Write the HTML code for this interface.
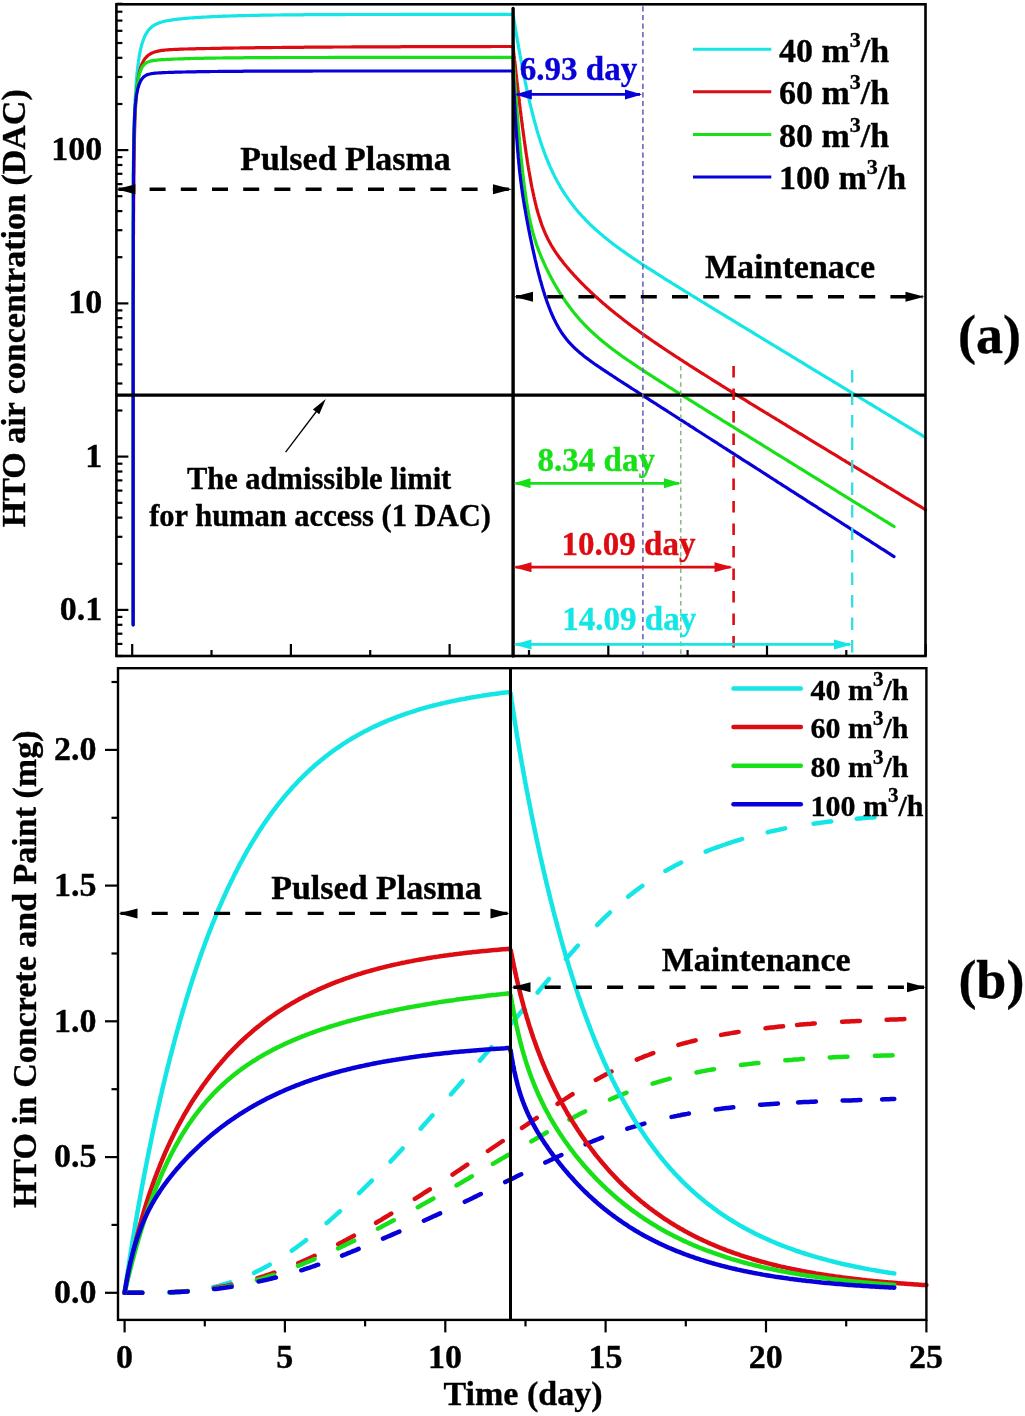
<!DOCTYPE html>
<html><head><meta charset="utf-8"><style>html,body{margin:0;padding:0;background:#fff;overflow:hidden}svg{display:block}</style></head><body>
<svg width="1025" height="1416" viewBox="0 0 1025 1416" font-family="Liberation Serif, serif" font-weight="bold">
<rect width="1025" height="1416" fill="#fff"/>
<line x1="132.2" y1="656" x2="132.2" y2="644" stroke="#000" stroke-width="2.2"/>
<line x1="211.5" y1="656" x2="211.5" y2="650" stroke="#000" stroke-width="2.2"/>
<line x1="290.9" y1="656" x2="290.9" y2="644" stroke="#000" stroke-width="2.2"/>
<line x1="370.2" y1="656" x2="370.2" y2="650" stroke="#000" stroke-width="2.2"/>
<line x1="449.6" y1="656" x2="449.6" y2="644" stroke="#000" stroke-width="2.2"/>
<line x1="529" y1="656" x2="529" y2="650" stroke="#000" stroke-width="2.2"/>
<line x1="608.3" y1="656" x2="608.3" y2="644" stroke="#000" stroke-width="2.2"/>
<line x1="687.6" y1="656" x2="687.6" y2="650" stroke="#000" stroke-width="2.2"/>
<line x1="767" y1="656" x2="767" y2="644" stroke="#000" stroke-width="2.2"/>
<line x1="846.3" y1="656" x2="846.3" y2="650" stroke="#000" stroke-width="2.2"/>
<line x1="925.7" y1="656" x2="925.7" y2="644" stroke="#000" stroke-width="2.2"/>
<line x1="116.4" y1="656" x2="122.4" y2="656" stroke="#000" stroke-width="2.2"/>
<line x1="116.4" y1="643.9" x2="122.4" y2="643.9" stroke="#000" stroke-width="2.2"/>
<line x1="116.4" y1="633.7" x2="122.4" y2="633.7" stroke="#000" stroke-width="2.2"/>
<line x1="116.4" y1="624.8" x2="122.4" y2="624.8" stroke="#000" stroke-width="2.2"/>
<line x1="116.4" y1="616.9" x2="122.4" y2="616.9" stroke="#000" stroke-width="2.2"/>
<line x1="116.4" y1="609.9" x2="128.4" y2="609.9" stroke="#000" stroke-width="2.2"/>
<line x1="116.4" y1="563.8" x2="122.4" y2="563.8" stroke="#000" stroke-width="2.2"/>
<line x1="116.4" y1="536.8" x2="122.4" y2="536.8" stroke="#000" stroke-width="2.2"/>
<line x1="116.4" y1="517.6" x2="122.4" y2="517.6" stroke="#000" stroke-width="2.2"/>
<line x1="116.4" y1="502.8" x2="122.4" y2="502.8" stroke="#000" stroke-width="2.2"/>
<line x1="116.4" y1="490.6" x2="122.4" y2="490.6" stroke="#000" stroke-width="2.2"/>
<line x1="116.4" y1="480.4" x2="122.4" y2="480.4" stroke="#000" stroke-width="2.2"/>
<line x1="116.4" y1="471.5" x2="122.4" y2="471.5" stroke="#000" stroke-width="2.2"/>
<line x1="116.4" y1="463.7" x2="122.4" y2="463.7" stroke="#000" stroke-width="2.2"/>
<line x1="116.4" y1="456.6" x2="128.4" y2="456.6" stroke="#000" stroke-width="2.2"/>
<line x1="116.4" y1="410.5" x2="122.4" y2="410.5" stroke="#000" stroke-width="2.2"/>
<line x1="116.4" y1="383.5" x2="122.4" y2="383.5" stroke="#000" stroke-width="2.2"/>
<line x1="116.4" y1="364.4" x2="122.4" y2="364.4" stroke="#000" stroke-width="2.2"/>
<line x1="116.4" y1="349.5" x2="122.4" y2="349.5" stroke="#000" stroke-width="2.2"/>
<line x1="116.4" y1="337.4" x2="122.4" y2="337.4" stroke="#000" stroke-width="2.2"/>
<line x1="116.4" y1="327.1" x2="122.4" y2="327.1" stroke="#000" stroke-width="2.2"/>
<line x1="116.4" y1="318.2" x2="122.4" y2="318.2" stroke="#000" stroke-width="2.2"/>
<line x1="116.4" y1="310.4" x2="122.4" y2="310.4" stroke="#000" stroke-width="2.2"/>
<line x1="116.4" y1="303.4" x2="128.4" y2="303.4" stroke="#000" stroke-width="2.2"/>
<line x1="116.4" y1="257.2" x2="122.4" y2="257.2" stroke="#000" stroke-width="2.2"/>
<line x1="116.4" y1="230.2" x2="122.4" y2="230.2" stroke="#000" stroke-width="2.2"/>
<line x1="116.4" y1="211.1" x2="122.4" y2="211.1" stroke="#000" stroke-width="2.2"/>
<line x1="116.4" y1="196.2" x2="122.4" y2="196.2" stroke="#000" stroke-width="2.2"/>
<line x1="116.4" y1="184.1" x2="122.4" y2="184.1" stroke="#000" stroke-width="2.2"/>
<line x1="116.4" y1="173.8" x2="122.4" y2="173.8" stroke="#000" stroke-width="2.2"/>
<line x1="116.4" y1="165" x2="122.4" y2="165" stroke="#000" stroke-width="2.2"/>
<line x1="116.4" y1="157.1" x2="122.4" y2="157.1" stroke="#000" stroke-width="2.2"/>
<line x1="116.4" y1="150.1" x2="128.4" y2="150.1" stroke="#000" stroke-width="2.2"/>
<line x1="116.4" y1="104" x2="122.4" y2="104" stroke="#000" stroke-width="2.2"/>
<line x1="116.4" y1="77" x2="122.4" y2="77" stroke="#000" stroke-width="2.2"/>
<line x1="116.4" y1="57.8" x2="122.4" y2="57.8" stroke="#000" stroke-width="2.2"/>
<line x1="116.4" y1="43" x2="122.4" y2="43" stroke="#000" stroke-width="2.2"/>
<line x1="116.4" y1="30.8" x2="122.4" y2="30.8" stroke="#000" stroke-width="2.2"/>
<line x1="116.4" y1="20.6" x2="122.4" y2="20.6" stroke="#000" stroke-width="2.2"/>
<line x1="116.4" y1="11.7" x2="122.4" y2="11.7" stroke="#000" stroke-width="2.2"/>
<line x1="116.4" y1="3.8" x2="122.4" y2="3.8" stroke="#000" stroke-width="2.2"/>
<text x="102.3" y="160.1" font-size="34" fill="#000" stroke="#000" stroke-width="0.35" text-anchor="end">100</text>
<text x="102.3" y="313.4" font-size="34" fill="#000" stroke="#000" stroke-width="0.35" text-anchor="end">10</text>
<text x="102.3" y="466.6" font-size="34" fill="#000" stroke="#000" stroke-width="0.35" text-anchor="end">1</text>
<text x="102.3" y="619.9" font-size="34" fill="#000" stroke="#000" stroke-width="0.35" text-anchor="end">0.1</text>
<text x="0" y="0" font-size="34" fill="#000" stroke="#000" stroke-width="0.35" text-anchor="middle" transform="translate(24.9 308.2) rotate(-90)">HTO air concentration (DAC)</text>
<path d="M133.2 624.8L133.2 617.2L133.2 615.9L133.2 614.7L133.2 613.5L133.2 612.3L133.2 611L133.2 609.8L133.2 608.6L133.2 607.4L133.2 606.2L133.2 604.9L133.2 603.7L133.2 602.5L133.2 601.3L133.2 600L133.2 598.8L133.2 597.6L133.2 596.4L133.2 595.1L133.2 593.8L133.2 592.6L133.2 591.3L133.2 590L133.2 588.8L133.2 587.6L133.2 586.3L133.2 585.1L133.2 583.8L133.2 582.6L133.2 581.3L133.2 580L133.2 578.8L133.2 577.5L133.2 576.3L133.2 575L133.2 573.7L133.2 572.4L133.2 571L133.2 569.8L133.2 568.6L133.2 567.4L133.2 566.1L133.2 564.8L133.2 563.5L133.2 562.2L133.2 560.9L133.2 559.5L133.2 558.2L133.2 557L133.2 555.7L133.2 554.5L133.2 553.3L133.2 552L133.2 550.8L133.2 549.5L133.2 548.2L133.2 546.9L133.2 545.6L133.2 544.2L133.2 542.9L133.2 541.6L133.2 540.2L133.2 538.8L133.2 537.4L133.2 536L133.2 534.8L133.2 533.6L133.2 532.4L133.2 531.2L133.2 530L133.2 528.7L133.2 527.5L133.2 526.2L133.2 525L133.2 523.7L133.2 522.4L133.2 521.2L133.2 519.9L133.2 518.6L133.2 517.3L133.2 516L133.2 514.7L133.2 513.3L133.2 512L133.2 510.7L133.2 509.4L133.2 508L133.2 506.7L133.2 505.3L133.2 504L133.2 502.6L133.2 501.2L133.2 499.8L133.2 498.5L133.2 497.1L133.2 495.7L133.2 494.3L133.2 492.9L133.2 491.5L133.2 490.1L133.2 488.7L133.2 487.3L133.2 485.8L133.2 484.4L133.2 483L133.2 481.6L133.2 480.1L133.2 478.9L133.2 477.7L133.2 476.5L133.2 475.3L133.2 474.1L133.2 472.9L133.2 471.7L133.2 470.4L133.2 469.2L133.2 468L133.2 466.8L133.2 465.5L133.2 464.3L133.2 463.1L133.2 461.9L133.2 460.6L133.2 459.4L133.2 458.1L133.2 456.9L133.2 455.7L133.2 454.4L133.2 453.2L133.2 451.9L133.2 450.7L133.2 449.4L133.2 448.2L133.2 446.9L133.2 445.6L133.2 444.4L133.2 443.1L133.2 441.9L133.2 440.6L133.2 439.3L133.2 438.1L133.2 436.8L133.2 435.5L133.2 434.2L133.2 433L133.2 431.7L133.2 430.4L133.2 429.1L133.2 427.9L133.2 426.6L133.2 425.3L133.2 424L133.2 422.7L133.2 421.5L133.2 420.2L133.2 418.9L133.2 417.6L133.2 416.3L133.2 415L133.2 413.7L133.2 412.4L133.2 411.1L133.2 409.9L133.2 408.6L133.2 407.3L133.2 406L133.2 404.7L133.2 403.4L133.2 402.1L133.2 400.8L133.2 399.5L133.2 398.2L133.2 396.9L133.2 395.6L133.2 394.3L133.2 393L133.2 391.7L133.2 390.4L133.2 389.1L133.2 387.8L133.2 386.5L133.2 385.2L133.2 383.9L133.2 382.6L133.2 381.2L133.2 379.9L133.2 378.6L133.2 377.3L133.2 376L133.2 374.7L133.2 373.4L133.2 372.1L133.2 370.8L133.2 369.5L133.2 368.2L133.2 366.9L133.2 365.6L133.2 364.2L133.2 362.9L133.2 361.6L133.2 360.3L133.2 359L133.2 357.7L133.2 356.4L133.2 355.1L133.2 353.8L133.2 352.5L133.2 351.1L133.2 349.8L133.2 348.5L133.2 347.2L133.2 345.9L133.2 344.6L133.2 343.3L133.2 342L133.2 340.7L133.2 339.4L133.2 338.1L133.2 336.8L133.2 335.4L133.2 334.1L133.2 332.8L133.2 331.5L133.2 330.2L133.2 328.9L133.2 327.6L133.2 326.3L133.2 325L133.2 323.7L133.2 322.4L133.2 321.1L133.2 319.8L133.2 318.5L133.2 317.2L133.2 315.9L133.2 314.6L133.2 313.3L133.2 312L133.2 310.7L133.2 309.4L133.2 308.1L133.2 306.8L133.2 305.5L133.2 304.2L133.2 302.9L133.2 301.6L133.2 300.3L133.2 299L133.2 297.7L133.2 296.4L133.2 295.2L133.2 293.9L133.2 292.6L133.2 291.3L133.2 290L133.2 288.7L133.2 287.4L133.2 286.2L133.2 284.9L133.2 283.6L133.2 282.3L133.2 281L133.2 279.8L133.3 278.5L133.3 277.2L133.3 276L133.3 274.7L133.3 273.4L133.3 272.2L133.3 270.9L133.3 269.6L133.3 268.4L133.3 267.1L133.3 265.8L133.3 264.6L133.3 263.3L133.3 262.1L133.3 260.8L133.3 259.6L133.3 258.3L133.3 257.1L133.3 255.8L133.3 254.6L133.3 253.3L133.3 252.1L133.3 250.9L133.3 249.6L133.3 248.4L133.3 247.2L133.3 245.9L133.3 244.7L133.3 243.5L133.3 242.3L133.3 241L133.3 239.8L133.3 238.6L133.3 237.4L133.3 236.2L133.3 235L133.3 233.8L133.3 232.6L133.3 231.1L133.3 229.7L133.3 228.3L133.3 226.9L133.3 225.4L133.3 224L133.3 222.6L133.3 221.2L133.3 219.8L133.3 218.4L133.3 217L133.3 215.6L133.3 214.2L133.3 212.9L133.4 211.5L133.4 210.1L133.4 208.7L133.4 207.4L133.4 206L133.4 204.7L133.4 203.4L133.4 202L133.4 200.7L133.4 199.4L133.4 198L133.4 196.7L133.4 195.4L133.4 194.1L133.4 192.8L133.4 191.6L133.4 190.3L133.4 189L133.4 187.7L133.4 186.5L133.5 185.2L133.5 184L133.5 182.7L133.5 181.5L133.5 180.3L133.5 179.1L133.5 177.9L133.5 176.7L133.5 175.3L133.5 173.9L133.5 172.5L133.5 171.1L133.5 169.8L133.6 168.4L133.6 167.1L133.6 165.8L133.6 164.5L133.6 163.2L133.6 161.9L133.6 160.6L133.6 159.3L133.6 158.1L133.7 156.8L133.7 155.6L133.7 154.3L133.7 153.1L133.7 151.9L133.7 150.7L133.7 149.4L133.8 148L133.8 146.7L133.8 145.3L133.8 144L133.8 142.7L133.9 141.4L133.9 140.1L133.9 138.9L133.9 137.6L134 136.3L134 135.1L134 133.8L134 132.6L134.1 131.4L134.1 130.1L134.1 128.9L134.1 127.7L134.2 126.5L134.2 125.2L134.2 124L134.3 122.8L134.3 121.6L134.4 120.4L134.4 119.2L134.4 118L134.5 116.8L134.5 115.5L134.6 114.3L134.6 113.1L134.6 111.9L134.7 110.7L134.7 109.4L134.8 108.2L134.8 107L134.9 105.7L135 104.5L135 103.2L135.1 101.9L135.1 100.7L135.2 99.4L135.3 98.1L135.3 96.9L135.4 95.6L135.5 94.3L135.6 93L135.6 91.7L135.7 90.4L135.8 89.1L135.9 87.8L136 86.5L136.1 85.2L136.2 83.9L136.3 82.6L136.4 81.3L136.5 80L136.6 78.7L136.7 77.4L136.8 76.1L136.9 74.8L137 73.6L137.2 72.3L137.3 71L137.4 69.7L137.6 68.5L137.7 67.2L137.9 66L138 64.7L138.2 63.5L138.4 62.2L138.5 61L138.7 59.8L138.9 58.6L139.1 57.3L139.3 56L139.5 54.7L139.8 53.4L140 52.1L140.3 50.9L140.6 49.7L140.8 48.4L141.1 47.3L141.4 46.1L141.7 44.8L142.1 43.6L142.5 42.4L142.9 41.2L143.3 40.1L143.7 38.8L144.2 37.6L144.7 36.5L145.2 35.4L145.8 34.2L146.5 33.1L147.1 32.1L147.8 31.1L148.6 30.1L149.4 29.1L150.3 28.2L151.2 27.4L152.2 26.6L153.2 25.8L154.3 25.1L155.4 24.5L156.5 24L157.7 23.4L158.8 23L160 22.6L161.2 22.2L162.3 21.8L163.6 21.5L164.8 21.2L166 21L167.2 20.7L168.5 20.5L169.8 20.3L171 20.1L172.3 19.9L173.6 19.7L174.9 19.5L176.1 19.4L177.4 19.2L178.6 19.1L180 18.9L181.3 18.8L182.7 18.7L183.9 18.5L185.2 18.4L186.5 18.3L187.8 18.2L189.1 18.1L190.5 18L192 17.9L193.2 17.8L194.4 17.7L195.7 17.6L196.9 17.5L198.3 17.4L199.6 17.4L201 17.3L202.4 17.2L203.8 17.1L205.2 17L206.7 17L207.9 16.9L209.2 16.8L210.4 16.8L211.7 16.7L213 16.6L214.3 16.6L215.6 16.5L217 16.5L218.3 16.4L219.7 16.3L221.2 16.3L222.6 16.2L224.1 16.2L225.6 16.1L227.1 16.1L228.6 16L230.2 16L231.8 15.9L233 15.9L234.2 15.8L235.5 15.8L236.7 15.8L238 15.7L239.3 15.7L240.6 15.7L241.9 15.6L243.3 15.6L244.6 15.6L246 15.5L247.4 15.5L248.8 15.5L250.2 15.4L251.6 15.4L253.1 15.4L254.6 15.4L256.1 15.3L257.6 15.3L259.1 15.3L260.6 15.2L262.2 15.2L263.8 15.2L265.4 15.2L267 15.1L268.7 15.1L270.3 15.1L272 15.1L273.7 15L275.5 15L277.2 15L279 15L280.8 15L282 14.9L283.2 14.9L284.4 14.9L285.7 14.9L286.9 14.9L288.2 14.9L289.4 14.9L290.7 14.9L292 14.8L293.3 14.8L294.6 14.8L295.9 14.8L297.3 14.8L298.6 14.8L300 14.8L301.3 14.8L302.7 14.8L304.1 14.7L305.5 14.7L306.9 14.7L308.3 14.7L309.8 14.7L311.2 14.7L312.7 14.7L314.1 14.7L315.6 14.7L317.1 14.7L318.6 14.7L320.1 14.6L321.7 14.6L323.2 14.6L324.8 14.6L326.3 14.6L327.9 14.6L329.5 14.6L331.1 14.6L332.7 14.6L334.4 14.6L336 14.6L337.7 14.6L339.3 14.6L341 14.6L342.7 14.6L344.4 14.6L346.2 14.5L347.9 14.5L349.7 14.5L351.5 14.5L353.2 14.5L355 14.5L356.9 14.5L358.7 14.5L360.5 14.5L362.4 14.5L364.3 14.5L366.2 14.5L368.1 14.5L370 14.5L371.9 14.5L373.9 14.5L375.8 14.5L377.8 14.5L379.8 14.5L381.9 14.5L383.9 14.5L385.9 14.5L388 14.5L390.1 14.5L392.2 14.5L394.3 14.5L396.5 14.5L398.6 14.5L400.8 14.4L403 14.4L405.2 14.4L407.4 14.4L409.6 14.4L411.9 14.4L414.2 14.4L416.5 14.4L418.8 14.4L421.1 14.4L423.5 14.4L425.9 14.4L428.3 14.4L429.5 14.4L430.7 14.4L431.9 14.4L433.1 14.4L434.3 14.4L435.6 14.4L436.8 14.4L438.1 14.4L439.3 14.4L440.5 14.4L441.8 14.4L443.1 14.4L444.3 14.4L445.6 14.4L446.9 14.4L448.2 14.4L449.4 14.4L450.7 14.4L452 14.4L453.3 14.4L454.6 14.4L456 14.4L457.3 14.4L458.6 14.4L459.9 14.4L461.3 14.4L462.6 14.4L463.9 14.4L465.3 14.4L466.6 14.4L468 14.4L469.4 14.4L470.8 14.4L472.1 14.4L473.5 14.4L474.9 14.4L476.3 14.4L477.7 14.4L479.1 14.4L480.5 14.4L481.9 14.4L483.4 14.4L484.8 14.4L486.2 14.4L487.7 14.4L489.1 14.4L490.6 14.4L492 14.4L493.5 14.4L495 14.4L496.4 14.4L497.9 14.4L499.4 14.4L500.9 14.4L502.4 14.4L503.9 14.4L505.4 14.4L507 14.4L508.5 14.4L510 14.4L511.6 14.4L513.1 14.4L513.3 15.6L513.5 16.8L513.7 18L513.9 19.2L514.1 20.4L514.3 21.6L514.5 22.8L514.7 24L514.9 25.1L515.1 26.3L515.3 27.5L515.5 28.8L515.7 30L515.9 31.2L516.1 32.4L516.3 33.6L516.5 34.8L516.7 36.1L516.9 37.3L517.1 38.5L517.3 39.8L517.5 41L517.8 42.3L518 43.5L518.2 44.8L518.4 46L518.6 47.3L518.9 48.6L519.1 49.8L519.3 51.1L519.6 52.3L519.8 53.5L520 54.7L520.2 56L520.5 57.3L520.7 58.6L520.9 59.8L521.2 61L521.4 62.3L521.6 63.5L521.9 64.9L522.1 66.2L522.4 67.6L522.6 68.8L522.9 70L523.1 71.2L523.4 72.5L523.6 73.8L523.9 75.1L524.1 76.4L524.4 77.8L524.7 79.2L525 80.6L525.2 81.8L525.5 83L525.7 84.2L526 85.5L526.3 86.7L526.5 88L526.8 89.3L527.1 90.6L527.4 91.9L527.7 93.3L528 94.6L528.3 96L528.6 97.4L528.9 98.8L529.3 100.2L529.6 101.7L529.9 103.1L530.2 104.3L530.5 105.5L530.8 106.7L531.1 107.9L531.4 109.1L531.7 110.3L532 111.6L532.3 112.8L532.6 114.1L532.9 115.3L533.3 116.6L533.6 117.9L533.9 119.1L534.3 120.4L534.6 121.7L535 123L535.3 124.3L535.7 125.7L536.1 127L536.5 128.3L536.8 129.6L537.2 131L537.6 132.3L538 133.7L538.4 135L538.9 136.4L539.3 137.7L539.7 139.1L540.2 140.5L540.6 141.8L541.1 143.2L541.5 144.6L542 146L542.5 147.3L543 148.7L543.5 150.1L544 151.5L544.5 152.9L545 154.2L545.5 155.6L546 157L546.6 158.4L547.1 159.7L547.7 161.1L548.3 162.5L548.9 163.9L549.4 165.2L550 166.6L550.7 168L551.3 169.3L551.9 170.7L552.5 172.1L553.2 173.4L553.9 174.8L554.5 176.1L555.2 177.5L555.9 178.8L556.6 180.1L557.3 181.5L558.1 182.8L558.8 184.1L559.6 185.4L560.3 186.8L561.1 188.1L561.9 189.4L562.7 190.7L563.5 192L564.4 193.3L565.2 194.6L566.1 195.9L567 197.2L567.8 198.4L568.7 199.7L569.7 201L570.6 202.3L571.6 203.5L572.5 204.8L573.5 206L574.2 207L575 207.9L575.8 208.9L576.5 209.8L577.3 210.7L578.1 211.7L578.9 212.6L579.7 213.5L580.6 214.4L581.4 215.4L582.2 216.3L583.1 217.2L584 218.1L584.8 219.1L585.7 220L586.6 220.9L587.5 221.8L588.5 222.7L589.4 223.7L590.3 224.6L591.3 225.5L592.2 226.4L593.2 227.3L594.2 228.2L595.2 229.1L596.2 230.1L597.3 231L598.3 231.9L599.4 232.8L600.4 233.7L601.5 234.6L602.6 235.5L603.7 236.5L604.8 237.4L606 238.3L607.1 239.2L608.3 240.1L609.4 241.1L610.6 242L611.8 242.9L613.1 243.9L614.3 244.8L615.5 245.7L616.8 246.7L618.1 247.6L619.4 248.6L620.7 249.5L622 250.5L623.4 251.4L624.7 252.4L626.1 253.4L627.5 254.3L628.9 255.3L630.4 256.3L631.8 257.3L633.3 258.3L634.8 259.3L635.8 260L636.8 260.6L637.8 261.3L638.8 262L639.9 262.7L640.9 263.4L642 264.1L643 264.8L644.1 265.5L645.2 266.2L646.3 266.9L647.3 267.6L648.5 268.3L649.6 269L650.7 269.7L651.8 270.5L653 271.2L654.1 271.9L655.3 272.7L656.4 273.4L657.6 274.2L658.8 274.9L660 275.7L661.2 276.4L662.4 277.2L663.7 278L664.9 278.8L666.1 279.5L667.4 280.3L668.7 281.1L670 281.9L671.2 282.7L672.5 283.5L673.9 284.4L675.2 285.2L676.5 286L677.9 286.8L679.2 287.7L680.6 288.5L682 289.4L683.3 290.2L684.7 291.1L686.2 292L687.6 292.8L689 293.7L690.5 294.6L691.9 295.5L693.4 296.4L694.9 297.3L696.4 298.2L697.9 299.2L699.4 300.1L700.9 301L702.5 302L704 302.9L705.6 303.9L707.2 304.9L708.8 305.8L710.4 306.8L712 307.8L713.7 308.8L715.3 309.8L717 310.8L718.6 311.8L720.3 312.9L722 313.9L723.8 315L725.5 316L727.2 317.1L729 318.2L730.8 319.2L732.6 320.3L734.4 321.4L736.2 322.5L738 323.6L739.9 324.8L741.7 325.9L743.6 327L745.5 328.2L747.4 329.4L749.4 330.5L751.3 331.7L753.3 332.9L755.2 334.1L757.2 335.3L759.2 336.5L761.3 337.8L763.3 339L764.3 339.6L765.4 340.3L766.4 340.9L767.4 341.5L768.5 342.2L769.5 342.8L770.6 343.4L771.6 344.1L772.7 344.7L773.8 345.4L774.8 346L775.9 346.7L777 347.3L778.1 348L779.2 348.6L780.3 349.3L781.3 350L782.4 350.6L783.6 351.3L784.7 352L785.8 352.7L786.9 353.3L788 354L789.2 354.7L790.3 355.4L791.4 356.1L792.6 356.8L793.7 357.5L794.9 358.2L796 358.9L797.2 359.6L798.3 360.3L799.5 361L800.7 361.7L801.9 362.4L803.1 363.1L804.2 363.9L805.4 364.6L806.6 365.3L807.8 366.1L809.1 366.8L810.3 367.5L811.5 368.3L812.7 369L813.9 369.8L815.2 370.5L816.4 371.3L817.7 372L818.9 372.8L820.2 373.5L821.4 374.3L822.7 375.1L824 375.8L825.2 376.6L826.5 377.4L827.8 378.2L829.1 379L830.4 379.7L831.7 380.5L833 381.3L834.3 382.1L835.6 382.9L837 383.7L838.3 384.5L839.6 385.3L841 386.2L842.3 387L843.7 387.8L845 388.6L846.4 389.4L847.8 390.3L849.1 391.1L850.5 392L851.9 392.8L853.3 393.6L854.7 394.5L856.1 395.3L857.5 396.2L858.9 397L860.3 397.9L861.7 398.8L863.2 399.6L864.6 400.5L866.1 401.4L867.5 402.3L869 403.2L870.4 404L871.9 404.9L873.4 405.8L874.8 406.7L876.3 407.6L877.8 408.5L879.3 409.4L880.8 410.3L882.3 411.3L883.8 412.2L885.4 413.1L886.9 414L888.4 415L890 415.9L891.5 416.8L893.1 417.8L894.6 418.7L896.2 419.7L897.8 420.6L899.3 421.6L900.9 422.6L902.5 423.5L904.1 424.5L905.7 425.5L907.3 426.4L908.9 427.4L910.6 428.4L912.2 429.4L913.8 430.4L915.5 431.4L917.1 432.4L918.8 433.4L920.5 434.4L922.1 435.4L923.8 436.5L925.5 437.5" fill="none" stroke="#14e6e6" stroke-width="3.2" stroke-linejoin="round" stroke-linecap="round"/>
<path d="M133.2 624.8L133.2 621.7L133.2 620.5L133.2 619.3L133.2 618.1L133.2 616.9L133.2 615.7L133.2 614.5L133.2 613.2L133.2 612L133.2 610.8L133.2 609.5L133.2 608.3L133.2 607.1L133.2 605.9L133.2 604.6L133.2 603.4L133.2 602.2L133.2 600.9L133.2 599.6L133.2 598.4L133.2 597.2L133.2 595.9L133.2 594.7L133.2 593.5L133.2 592.2L133.2 591L133.2 589.8L133.2 588.5L133.2 587.2L133.2 585.9L133.2 584.7L133.2 583.5L133.2 582.2L133.2 580.9L133.2 579.6L133.2 578.4L133.2 577.2L133.2 575.9L133.2 574.6L133.2 573.3L133.2 572L133.2 570.6L133.2 569.4L133.2 568.2L133.2 566.9L133.2 565.7L133.2 564.4L133.2 563.1L133.2 561.8L133.2 560.4L133.2 559.1L133.2 557.7L133.2 556.5L133.2 555.3L133.2 554L133.2 552.8L133.2 551.5L133.2 550.3L133.2 549L133.2 547.7L133.2 546.4L133.2 545.1L133.2 543.7L133.2 542.4L133.2 541L133.2 539.7L133.2 538.3L133.2 536.9L133.2 535.5L133.2 534.3L133.2 533.1L133.2 531.9L133.2 530.6L133.2 529.4L133.2 528.2L133.2 526.9L133.2 525.7L133.2 524.4L133.2 523.1L133.2 521.8L133.2 520.6L133.2 519.3L133.2 518L133.2 516.7L133.2 515.4L133.2 514L133.2 512.7L133.2 511.4L133.2 510.1L133.2 508.7L133.2 507.4L133.2 506L133.2 504.7L133.2 503.3L133.2 501.9L133.2 500.6L133.2 499.2L133.2 497.8L133.2 496.4L133.2 495L133.2 493.6L133.2 492.2L133.2 490.8L133.2 489.4L133.2 488L133.2 486.6L133.2 485.2L133.2 483.7L133.2 482.3L133.2 480.9L133.2 479.7L133.2 478.5L133.2 477.2L133.2 476L133.2 474.8L133.2 473.6L133.2 472.4L133.2 471.2L133.2 470L133.2 468.7L133.2 467.5L133.2 466.3L133.2 465L133.2 463.8L133.2 462.6L133.2 461.3L133.2 460.1L133.2 458.9L133.2 457.6L133.2 456.4L133.2 455.1L133.2 453.9L133.2 452.6L133.2 451.4L133.2 450.1L133.2 448.9L133.2 447.6L133.2 446.3L133.2 445.1L133.2 443.8L133.2 442.5L133.2 441.3L133.2 440L133.2 438.7L133.2 437.5L133.2 436.2L133.2 434.9L133.2 433.6L133.2 432.4L133.2 431.1L133.2 429.8L133.2 428.5L133.2 427.2L133.2 426L133.2 424.7L133.2 423.4L133.2 422.1L133.2 420.8L133.2 419.5L133.2 418.2L133.2 416.9L133.2 415.6L133.2 414.3L133.2 413L133.2 411.7L133.2 410.4L133.2 409.1L133.2 407.8L133.2 406.5L133.2 405.2L133.2 403.9L133.2 402.6L133.2 401.3L133.2 400L133.2 398.7L133.2 397.4L133.2 396.1L133.2 394.8L133.2 393.5L133.2 392.2L133.2 390.9L133.2 389.6L133.2 388.2L133.2 386.9L133.2 385.6L133.2 384.3L133.2 383L133.2 381.7L133.2 380.4L133.2 379L133.2 377.7L133.2 376.4L133.2 375.1L133.2 373.8L133.2 372.5L133.2 371.1L133.2 369.8L133.2 368.5L133.2 367.2L133.2 365.9L133.2 364.5L133.2 363.2L133.2 361.9L133.2 360.6L133.2 359.2L133.2 357.9L133.2 356.6L133.2 355.3L133.2 354L133.2 352.6L133.2 351.3L133.2 350L133.2 348.7L133.2 347.3L133.2 346L133.2 344.7L133.2 343.4L133.2 342L133.2 340.7L133.2 339.4L133.3 338L133.3 336.7L133.3 335.4L133.3 334.1L133.3 332.7L133.3 331.4L133.3 330.1L133.3 328.8L133.3 327.4L133.3 326.1L133.3 324.8L133.3 323.5L133.3 322.1L133.3 320.8L133.3 319.5L133.3 318.1L133.3 316.8L133.3 315.5L133.3 314.2L133.3 312.8L133.3 311.5L133.3 310.2L133.3 308.9L133.3 307.5L133.3 306.2L133.3 304.9L133.3 303.6L133.3 302.2L133.3 300.9L133.3 299.6L133.3 298.3L133.3 296.9L133.3 295.6L133.3 294.3L133.3 293L133.3 291.6L133.3 290.3L133.3 289L133.3 287.7L133.3 286.3L133.3 285L133.3 283.7L133.3 282.4L133.3 281.1L133.3 279.7L133.3 278.4L133.3 277.1L133.3 275.8L133.3 274.5L133.3 273.1L133.3 271.8L133.3 270.5L133.3 269.2L133.3 267.9L133.4 266.6L133.4 265.2L133.4 263.9L133.4 262.6L133.4 261.3L133.4 260L133.4 258.7L133.4 257.4L133.4 256.1L133.4 254.7L133.4 253.4L133.4 252.1L133.4 250.8L133.4 249.5L133.4 248.2L133.4 246.9L133.4 245.6L133.4 244.3L133.4 243L133.4 241.7L133.4 240.4L133.4 239.1L133.4 237.8L133.4 236.5L133.4 235.2L133.5 233.9L133.5 232.6L133.5 231.3L133.5 230L133.5 228.7L133.5 227.4L133.5 226.2L133.5 224.9L133.5 223.6L133.5 222.3L133.5 221L133.5 219.7L133.5 218.4L133.5 217.2L133.5 215.9L133.5 214.6L133.5 213.3L133.6 212.1L133.6 210.8L133.6 209.5L133.6 208.3L133.6 207L133.6 205.7L133.6 204.5L133.6 203.2L133.6 201.9L133.6 200.7L133.6 199.4L133.6 198.2L133.7 196.9L133.7 195.7L133.7 194.4L133.7 193.2L133.7 191.9L133.7 190.7L133.7 189.4L133.7 188.2L133.7 187L133.7 185.7L133.8 184.5L133.8 183.3L133.8 182L133.8 180.8L133.8 179.6L133.8 178.4L133.8 177.2L133.8 175.9L133.9 174.7L133.9 173.5L133.9 172.3L133.9 171.1L133.9 169.9L133.9 168.5L133.9 167.1L134 165.6L134 164.2L134 162.8L134 161.4L134 160L134.1 158.6L134.1 157.2L134.1 155.8L134.1 154.4L134.2 153L134.2 151.6L134.2 150.2L134.2 148.9L134.3 147.5L134.3 146.2L134.3 144.8L134.3 143.5L134.4 142.1L134.4 140.8L134.4 139.5L134.4 138.2L134.5 136.9L134.5 135.5L134.5 134.3L134.6 133L134.6 131.7L134.6 130.4L134.7 129.1L134.7 127.9L134.8 126.6L134.8 125.4L134.8 124.1L134.9 122.9L134.9 121.7L135 120.5L135 119.3L135.1 117.9L135.1 116.5L135.2 115.1L135.2 113.8L135.3 112.4L135.3 111.1L135.4 109.8L135.5 108.5L135.5 107.2L135.6 105.9L135.7 104.6L135.7 103.4L135.8 102.2L135.9 100.9L136 99.7L136.1 98.4L136.2 97L136.2 95.7L136.3 94.4L136.5 93.1L136.6 91.8L136.7 90.6L136.8 89.4L136.9 88.2L137 86.9L137.2 85.6L137.3 84.3L137.5 83L137.7 81.8L137.8 80.6L138 79.3L138.2 78L138.4 76.8L138.6 75.6L138.9 74.3L139.1 73.1L139.4 71.9L139.7 70.6L140.1 69.4L140.4 68.2L140.8 67L141.2 65.8L141.6 64.7L142.1 63.5L142.7 62.4L143.3 61.3L143.9 60.2L144.6 59.2L145.3 58.2L146.2 57.3L147 56.4L148 55.6L149 54.8L150 54.1L151.1 53.5L152.2 52.9L153.3 52.5L154.5 52.1L155.7 51.7L156.9 51.4L158.1 51.1L159.3 50.8L160.5 50.6L161.8 50.4L163.1 50.3L164.3 50.1L165.6 50L166.8 49.9L168.1 49.8L169.4 49.7L170.6 49.6L171.8 49.6L173.1 49.5L174.4 49.4L175.8 49.4L177 49.3L178.3 49.3L179.6 49.2L180.9 49.2L182.3 49.1L183.5 49.1L184.8 49L186 49L187.4 49L188.7 48.9L190.1 48.9L191.5 48.9L192.7 48.8L193.9 48.8L195.1 48.8L196.4 48.7L197.7 48.7L199.1 48.7L200.4 48.7L201.8 48.6L203.2 48.6L204.6 48.6L206.1 48.5L207.6 48.5L208.8 48.5L210.1 48.5L211.3 48.4L212.6 48.4L213.9 48.4L215.3 48.4L216.6 48.3L218 48.3L219.4 48.3L220.8 48.3L222.2 48.2L223.7 48.2L225.2 48.2L226.7 48.2L228.2 48.1L229.8 48.1L231.4 48.1L232.6 48.1L233.8 48L235.1 48L236.3 48L237.6 48L238.9 48L240.2 47.9L241.5 47.9L242.8 47.9L244.2 47.9L245.5 47.9L246.9 47.9L248.3 47.8L249.7 47.8L251.1 47.8L252.6 47.8L254.1 47.8L255.6 47.7L257.1 47.7L258.6 47.7L260.1 47.7L261.7 47.7L263.3 47.6L264.9 47.6L266.5 47.6L268.1 47.6L269.8 47.6L271.5 47.6L273.2 47.5L274.9 47.5L276.6 47.5L278.4 47.5L280.2 47.5L281.4 47.5L282.6 47.4L283.8 47.4L285.1 47.4L286.3 47.4L287.6 47.4L288.8 47.4L290.1 47.4L291.4 47.4L292.7 47.3L294 47.3L295.3 47.3L296.6 47.3L298 47.3L299.3 47.3L300.7 47.3L302 47.3L303.4 47.3L304.8 47.2L306.2 47.2L307.6 47.2L309.1 47.2L310.5 47.2L311.9 47.2L313.4 47.2L314.9 47.2L316.4 47.2L317.9 47.2L319.4 47.1L320.9 47.1L322.4 47.1L324 47.1L325.5 47.1L327.1 47.1L328.7 47.1L330.3 47.1L331.9 47.1L333.5 47L335.2 47L336.8 47L338.5 47L340.2 47L341.9 47L343.6 47L345.3 47L347 47L348.8 47L350.6 47L352.3 46.9L354.1 46.9L355.9 46.9L357.8 46.9L359.6 46.9L361.5 46.9L363.3 46.9L365.2 46.9L367.1 46.9L369 46.9L371 46.9L372.9 46.9L374.9 46.8L376.8 46.8L378.8 46.8L380.8 46.8L382.9 46.8L384.9 46.8L387 46.8L389 46.8L391.1 46.8L393.3 46.8L395.4 46.8L397.5 46.8L399.7 46.8L401.9 46.7L404.1 46.7L406.3 46.7L408.5 46.7L410.8 46.7L413 46.7L415.3 46.7L417.6 46.7L420 46.7L422.3 46.7L424.7 46.7L427.1 46.7L428.3 46.7L429.5 46.7L430.7 46.7L431.9 46.7L433.1 46.7L434.3 46.7L435.6 46.7L436.8 46.6L438.1 46.6L439.3 46.6L440.5 46.6L441.8 46.6L443.1 46.6L444.3 46.6L445.6 46.6L446.9 46.6L448.2 46.6L449.4 46.6L450.7 46.6L452 46.6L453.3 46.6L454.6 46.6L456 46.6L457.3 46.6L458.6 46.6L459.9 46.6L461.3 46.6L462.6 46.6L463.9 46.6L465.3 46.6L466.6 46.6L468 46.6L469.4 46.6L470.8 46.6L472.1 46.6L473.5 46.6L474.9 46.6L476.3 46.6L477.7 46.6L479.1 46.6L480.5 46.6L481.9 46.6L483.4 46.6L484.8 46.6L486.2 46.6L487.7 46.6L489.1 46.6L490.6 46.6L492 46.5L493.5 46.5L495 46.5L496.4 46.5L497.9 46.5L499.4 46.5L500.9 46.5L502.4 46.5L503.9 46.5L505.4 46.5L507 46.5L508.5 46.5L510 46.5L511.6 46.5L513.1 46.5L513.2 47.6L513.4 48.8L513.5 50L513.6 51.2L513.7 52.4L513.9 53.6L514 54.8L514.1 56L514.3 57.2L514.4 58.4L514.5 59.7L514.7 60.9L514.8 62.1L515 63.4L515.1 64.6L515.2 65.8L515.4 67L515.5 68.2L515.6 69.5L515.8 70.7L515.9 71.9L516 73.2L516.2 74.4L516.3 75.6L516.5 76.9L516.6 78.2L516.8 79.5L516.9 80.7L517 81.9L517.2 83.2L517.3 84.6L517.5 85.8L517.6 87L517.8 88.3L517.9 89.7L518.1 90.9L518.2 92.1L518.4 93.4L518.5 94.7L518.7 96L518.8 97.4L519 98.6L519.1 99.8L519.3 101.1L519.4 102.4L519.6 103.7L519.7 105L519.9 106.4L520.1 107.8L520.2 109.2L520.4 110.4L520.5 111.6L520.7 112.9L520.9 114.1L521 115.4L521.2 116.7L521.4 118L521.5 119.4L521.7 120.8L521.9 122.2L522.1 123.6L522.2 125L522.4 126.5L522.6 127.9L522.8 129.1L522.9 130.3L523.1 131.6L523.3 132.8L523.4 134.1L523.6 135.3L523.8 136.6L524 137.9L524.1 139.2L524.3 140.5L524.5 141.8L524.7 143.2L524.9 144.5L525.1 145.9L525.3 147.3L525.5 148.7L525.7 150.1L525.9 151.5L526.1 152.9L526.3 154.4L526.5 155.8L526.8 157.3L527 158.7L527.2 160.2L527.4 161.7L527.7 163.2L527.9 164.7L528.2 166.2L528.4 167.7L528.7 169.2L528.9 170.8L529.2 172.3L529.5 173.8L529.7 175.4L530 176.9L530.3 178.5L530.6 180L530.8 181.6L531.1 183.1L531.4 184.7L531.7 186.3L532 187.8L532.4 189.4L532.7 190.9L533 192.5L533.3 194L533.7 195.5L534 197.1L534.4 198.6L534.7 200.1L535.1 201.6L535.4 203.1L535.8 204.6L536.2 206.1L536.5 207.6L536.9 209L537.3 210.5L537.7 211.9L538.1 213.4L538.5 214.8L539 216.2L539.4 217.5L539.8 218.9L540.3 220.3L540.7 221.6L541.2 222.9L541.6 224.3L542.1 225.6L542.6 226.8L543.1 228.1L543.6 229.4L544.1 230.6L544.6 231.8L545.1 233L545.6 234.2L546.2 235.4L546.7 236.6L547.3 237.7L547.8 238.9L548.4 240L549 241.1L549.6 242.2L550.2 243.3L550.8 244.4L551.4 245.5L552.1 246.6L552.7 247.6L553.4 248.7L554 249.7L554.7 250.8L555.4 251.8L556.1 252.9L556.8 253.9L557.5 254.9L558.3 256L559 257L559.8 258L560.5 259L561.3 260.1L562.1 261.1L562.9 262.1L563.7 263.2L564.6 264.2L565.4 265.2L566.3 266.3L567.2 267.3L568.1 268.4L569 269.4L569.9 270.5L570.8 271.6L571.8 272.6L572.8 273.7L573.7 274.8L574.7 275.9L575.8 277L576.8 278.1L577.9 279.2L578.9 280.3L580 281.4L581.1 282.6L582.2 283.7L583.1 284.6L584 285.4L584.8 286.3L585.7 287.2L586.6 288L587.5 288.9L588.5 289.8L589.4 290.7L590.3 291.6L591.3 292.5L592.2 293.4L593.2 294.3L594.2 295.2L595.2 296.1L596.2 297.1L597.3 298L598.3 298.9L599.4 299.9L600.4 300.8L601.5 301.8L602.6 302.7L603.7 303.7L604.8 304.6L606 305.6L607.1 306.6L608.3 307.5L609.4 308.5L610.6 309.5L611.8 310.5L613.1 311.5L614.3 312.5L615.5 313.5L616.8 314.5L618.1 315.5L619.4 316.6L620.7 317.6L622 318.6L623.4 319.7L624.7 320.7L626.1 321.8L627.5 322.8L628.9 323.9L630.4 325L631.3 325.7L632.3 326.4L633.3 327.2L634.3 327.9L635.3 328.6L636.3 329.3L637.3 330.1L638.3 330.8L639.3 331.6L640.4 332.3L641.4 333.1L642.5 333.8L643.6 334.6L644.6 335.3L645.7 336.1L646.8 336.9L647.9 337.6L649 338.4L650.1 339.2L651.3 340L652.4 340.8L653.5 341.5L654.7 342.3L655.9 343.1L657 343.9L658.2 344.7L659.4 345.6L660.6 346.4L661.8 347.2L663 348L664.3 348.8L665.5 349.7L666.8 350.5L668 351.3L669.3 352.2L670.6 353L671.9 353.9L673.2 354.7L674.5 355.6L675.8 356.5L677.2 357.4L678.5 358.2L679.9 359.1L681.3 360L682.7 360.9L684 361.8L685.5 362.7L686.9 363.6L688.3 364.5L689.7 365.5L691.2 366.4L692.7 367.3L694.1 368.3L695.6 369.2L697.1 370.2L698.6 371.1L700.2 372.1L701.7 373.1L703.3 374L704.8 375L706.4 376L708 377L709.6 378L711.2 379L712.8 380.1L714.5 381.1L716.1 382.1L717.8 383.2L719.5 384.2L721.2 385.3L722.9 386.3L724.6 387.4L726.4 388.5L728.1 389.6L729.9 390.7L731.7 391.8L733.5 392.9L735.3 394L737.1 395.1L739 396.3L740.8 397.4L742.7 398.6L744.6 399.7L746.5 400.9L748.4 402.1L750.3 403.3L752.3 404.5L754.2 405.7L756.2 406.9L758.2 408.1L760.2 409.3L762.3 410.6L764.3 411.8L765.4 412.5L766.4 413.1L767.4 413.7L768.5 414.4L769.5 415L770.6 415.7L771.6 416.3L772.7 416.9L773.8 417.6L774.8 418.2L775.9 418.9L777 419.6L778.1 420.2L779.2 420.9L780.3 421.6L781.3 422.2L782.4 422.9L783.6 423.6L784.7 424.2L785.8 424.9L786.9 425.6L788 426.3L789.2 427L790.3 427.7L791.4 428.4L792.6 429.1L793.7 429.8L794.9 430.5L796 431.2L797.2 431.9L798.3 432.6L799.5 433.3L800.7 434L801.9 434.7L803.1 435.4L804.2 436.2L805.4 436.9L806.6 437.6L807.8 438.4L809.1 439.1L810.3 439.8L811.5 440.6L812.7 441.3L813.9 442.1L815.2 442.8L816.4 443.6L817.7 444.3L818.9 445.1L820.2 445.8L821.4 446.6L822.7 447.4L824 448.2L825.2 448.9L826.5 449.7L827.8 450.5L829.1 451.3L830.4 452.1L831.7 452.9L833 453.6L834.3 454.4L835.6 455.2L837 456L838.3 456.9L839.6 457.7L841 458.5L842.3 459.3L843.7 460.1L845 460.9L846.4 461.8L847.8 462.6L849.1 463.4L850.5 464.3L851.9 465.1L853.3 466L854.7 466.8L856.1 467.7L857.5 468.5L858.9 469.4L860.3 470.2L861.7 471.1L863.2 472L864.6 472.8L866.1 473.7L867.5 474.6L869 475.5L870.4 476.4L871.9 477.2L873.4 478.1L874.8 479L876.3 479.9L877.8 480.8L879.3 481.7L880.8 482.7L882.3 483.6L883.8 484.5L885.4 485.4L886.9 486.3L888.4 487.3L890 488.2L891.5 489.1L893.1 490.1L894.6 491L896.2 492L897.8 492.9L899.3 493.9L900.9 494.9L902.5 495.8L904.1 496.8L905.7 497.8L907.3 498.7L908.9 499.7L910.6 500.7L912.2 501.7L913.8 502.7L915.5 503.7L917.1 504.7L918.8 505.7L920.5 506.7L922.1 507.7L923.8 508.7L925.5 509.8" fill="none" stroke="#dc0c12" stroke-width="3.2" stroke-linejoin="round" stroke-linecap="round"/>
<path d="M133.2 624.8L133.2 177.6L133.2 176.4L133.2 175.2L133.2 174L133.3 172.8L133.3 171.6L133.3 170.4L133.3 169.1L133.3 167.9L133.4 166.7L133.4 165.5L133.4 164.3L133.4 163.1L133.4 161.8L133.5 160.6L133.5 159.4L133.5 158.2L133.5 157L133.5 155.8L133.6 154.5L133.6 153.2L133.6 152L133.7 150.8L133.7 149.6L133.7 148.3L133.7 147L133.8 145.8L133.8 144.5L133.8 143.2L133.9 142L133.9 140.7L133.9 139.5L134 138.2L134 137L134 135.8L134.1 134.5L134.1 133.2L134.2 131.9L134.2 130.7L134.2 129.5L134.3 128.3L134.3 127L134.4 125.7L134.4 124.5L134.5 123.2L134.5 121.9L134.6 120.6L134.6 119.3L134.7 117.9L134.7 116.7L134.8 115.5L134.9 114.3L134.9 113.1L135 111.9L135.1 110.6L135.1 109.4L135.2 108.2L135.3 107L135.3 105.7L135.4 104.5L135.5 103.3L135.6 102.1L135.7 100.8L135.8 99.6L135.9 98.4L136 97.2L136.1 95.9L136.2 94.6L136.3 93.3L136.5 92L136.6 90.7L136.7 89.4L136.9 88.2L137 86.9L137.2 85.7L137.4 84.5L137.6 83.3L137.8 82L138 80.8L138.2 79.6L138.4 78.3L138.7 77.1L139 75.9L139.3 74.6L139.6 73.5L140 72.2L140.4 71.1L140.9 69.9L141.4 68.7L141.9 67.7L142.5 66.6L143.3 65.6L144.1 64.7L144.9 63.8L145.9 63.1L147 62.4L148.1 61.9L149.3 61.5L150.4 61.1L151.7 60.8L152.9 60.6L154.2 60.4L155.4 60.3L156.6 60.1L157.9 60L159.1 59.9L160.4 59.8L161.6 59.7L162.9 59.6L164.2 59.6L165.5 59.5L166.7 59.4L167.9 59.4L169.2 59.3L170.6 59.3L171.8 59.2L173.1 59.1L174.4 59.1L175.8 59L177 59L178.3 58.9L179.6 58.9L180.9 58.9L182.3 58.8L183.5 58.8L184.8 58.7L186 58.7L187.4 58.7L188.7 58.6L190.1 58.6L191.5 58.5L192.7 58.5L193.9 58.5L195.1 58.4L196.4 58.4L197.7 58.4L199.1 58.4L200.4 58.3L201.8 58.3L203.2 58.3L204.6 58.2L206.1 58.2L207.6 58.2L208.8 58.2L210.1 58.1L211.3 58.1L212.6 58.1L213.9 58.1L215.3 58.1L216.6 58L218 58L219.4 58L220.8 58L222.2 58L223.7 57.9L225.2 57.9L226.7 57.9L228.2 57.9L229.8 57.9L231.4 57.9L232.6 57.8L233.8 57.8L235.1 57.8L236.3 57.8L237.6 57.8L238.9 57.8L240.2 57.8L241.5 57.8L242.8 57.8L244.2 57.7L245.5 57.7L246.9 57.7L248.3 57.7L249.7 57.7L251.1 57.7L252.6 57.7L254.1 57.7L255.6 57.7L257.1 57.7L258.6 57.6L260.1 57.6L261.7 57.6L263.3 57.6L264.9 57.6L266.5 57.6L268.1 57.6L269.8 57.6L271.5 57.6L273.2 57.6L274.9 57.6L276.6 57.6L278.4 57.6L280.2 57.5L281.4 57.5L282.6 57.5L283.8 57.5L285.1 57.5L286.3 57.5L287.6 57.5L288.8 57.5L290.1 57.5L291.4 57.5L292.7 57.5L294 57.5L295.3 57.5L296.6 57.5L298 57.5L299.3 57.5L300.7 57.5L302 57.5L303.4 57.5L304.8 57.5L306.2 57.5L307.6 57.5L309.1 57.5L310.5 57.5L311.9 57.5L313.4 57.5L314.9 57.5L316.4 57.5L317.9 57.5L319.4 57.5L320.9 57.5L322.4 57.5L324 57.5L325.5 57.5L327.1 57.5L328.7 57.4L330.3 57.4L331.9 57.4L333.5 57.4L335.2 57.4L336.8 57.4L338.5 57.4L340.2 57.4L341.9 57.4L343.6 57.4L345.3 57.4L347 57.4L348.8 57.4L350.6 57.4L352.3 57.4L354.1 57.4L355.9 57.4L357.8 57.4L359.6 57.4L361.5 57.4L363.3 57.4L365.2 57.4L367.1 57.4L369 57.4L371 57.4L372.9 57.4L374.9 57.4L376.8 57.4L378.8 57.4L380.8 57.4L382.9 57.4L384.9 57.4L387 57.4L389 57.4L391.1 57.4L393.3 57.4L395.4 57.4L397.5 57.4L399.7 57.4L401.9 57.4L404.1 57.4L406.3 57.4L408.5 57.4L410.8 57.4L413 57.4L415.3 57.4L417.6 57.4L420 57.4L422.3 57.4L424.7 57.4L427.1 57.4L428.3 57.4L429.5 57.4L430.7 57.4L431.9 57.4L433.1 57.4L434.3 57.4L435.6 57.4L436.8 57.4L438.1 57.4L439.3 57.4L440.5 57.4L441.8 57.4L443.1 57.4L444.3 57.4L445.6 57.4L446.9 57.4L448.2 57.4L449.4 57.4L450.7 57.4L452 57.4L453.3 57.4L454.6 57.4L456 57.4L457.3 57.4L458.6 57.4L459.9 57.4L461.3 57.4L462.6 57.4L463.9 57.4L465.3 57.4L466.6 57.4L468 57.4L469.4 57.4L470.8 57.4L472.1 57.4L473.5 57.4L474.9 57.4L476.3 57.4L477.7 57.4L479.1 57.4L480.5 57.4L481.9 57.4L483.4 57.4L484.8 57.4L486.2 57.4L487.7 57.4L489.1 57.4L490.6 57.4L492 57.4L493.5 57.4L495 57.4L496.4 57.4L497.9 57.4L499.4 57.4L500.9 57.4L502.4 57.4L503.9 57.4L505.4 57.4L507 57.4L508.5 57.4L510 57.4L511.6 57.4L513.1 57.4L513.2 58.6L513.3 59.8L513.3 61L513.4 62.2L513.5 63.4L513.6 64.6L513.7 65.8L513.8 67L513.9 68.3L513.9 69.5L514 70.7L514.1 71.9L514.2 73.1L514.3 74.4L514.4 75.6L514.5 76.8L514.5 78L514.6 79.3L514.7 80.5L514.8 81.7L514.9 83L515 84.3L515.1 85.6L515.2 86.8L515.3 88.1L515.4 89.4L515.5 90.7L515.6 92L515.7 93.2L515.8 94.5L515.9 95.8L515.9 97L516 98.3L516.1 99.6L516.2 100.9L516.3 102.3L516.4 103.5L516.5 104.8L516.6 106L516.7 107.4L516.8 108.7L517 110.1L517 111.3L517.1 112.5L517.2 113.8L517.3 115.1L517.5 116.4L517.6 117.8L517.7 119.1L517.8 120.5L517.9 121.9L518 123.1L518.1 124.3L518.2 125.6L518.3 126.8L518.4 128.1L518.5 129.4L518.6 130.7L518.8 132.1L518.9 133.4L519 134.8L519.1 136.2L519.2 137.6L519.4 139L519.5 140.5L519.6 141.9L519.8 143.4L519.9 144.6L520 145.8L520.1 147L520.2 148.3L520.3 149.5L520.4 150.7L520.6 152L520.7 153.3L520.8 154.6L520.9 155.9L521.1 157.2L521.2 158.5L521.3 159.8L521.5 161.1L521.6 162.5L521.7 163.8L521.9 165.2L522 166.5L522.2 167.9L522.3 169.3L522.5 170.6L522.6 172L522.8 173.4L522.9 174.8L523.1 176.2L523.3 177.6L523.4 179L523.6 180.4L523.8 181.9L523.9 183.3L524.1 184.7L524.3 186.1L524.5 187.5L524.7 188.9L524.9 190.4L525.1 191.8L525.3 193.2L525.5 194.6L525.7 196L525.9 197.4L526.1 198.8L526.3 200.2L526.5 201.6L526.7 203L527 204.4L527.2 205.8L527.4 207.1L527.6 208.5L527.9 209.8L528.1 211.2L528.4 212.5L528.6 213.9L528.9 215.2L529.1 216.5L529.4 217.8L529.7 219.1L529.9 220.4L530.2 221.6L530.5 222.9L530.8 224.2L531.1 225.4L531.4 226.6L531.7 227.9L532 229.1L532.3 230.3L532.6 231.5L532.9 232.7L533.3 233.8L533.6 235L533.9 236.2L534.3 237.3L534.6 238.5L535.1 239.9L535.5 241.3L536 242.8L536.4 244.2L536.9 245.6L537.4 246.9L537.9 248.3L538.4 249.7L538.9 251.1L539.5 252.5L540 253.8L540.6 255.2L541.1 256.6L541.7 258L542.3 259.3L542.8 260.5L543.3 261.6L543.8 262.7L544.3 263.8L544.8 264.9L545.3 266L545.8 267.2L546.4 268.3L546.9 269.4L547.5 270.5L548.1 271.7L548.6 272.8L549.2 274L549.8 275.1L550.4 276.3L551 277.5L551.6 278.6L552.3 279.8L552.9 281L553.6 282.2L554.2 283.4L554.9 284.5L555.6 285.7L556.3 286.9L557 288.1L557.7 289.3L558.5 290.6L559.2 291.8L560 293L560.7 294.2L561.5 295.4L562.3 296.6L563.1 297.9L564 299.1L564.8 300.3L565.6 301.6L566.5 302.8L567.4 304L568.3 305.3L569.2 306.5L570.1 307.7L571 308.9L572 310.2L573 311.4L573.9 312.6L574.9 313.9L576 315.1L576.7 316L577.5 316.9L578.3 317.8L579.1 318.8L579.9 319.7L580.7 320.6L581.6 321.5L582.4 322.4L583.3 323.3L584.1 324.2L585 325.2L585.9 326.1L586.8 327L587.7 327.9L588.6 328.8L589.5 329.7L590.5 330.6L591.4 331.5L592.4 332.4L593.4 333.3L594.4 334.2L595.4 335.1L596.4 336L597.4 336.9L598.4 337.8L599.5 338.7L600.5 339.6L601.6 340.5L602.7 341.4L603.8 342.3L604.9 343.2L606.1 344.1L607.2 345L608.4 346L609.5 346.9L610.7 347.8L611.9 348.7L613.1 349.6L614.4 350.5L615.6 351.5L616.9 352.4L618.2 353.3L619.4 354.3L620.8 355.2L622.1 356.2L623.4 357.1L624.8 358.1L626.2 359L627.5 360L629 361L630.4 361.9L631.8 362.9L633.3 363.9L634.8 364.9L636.3 365.9L637.3 366.6L638.3 367.3L639.3 367.9L640.3 368.6L641.4 369.3L642.4 370L643.5 370.7L644.6 371.4L645.6 372.1L646.7 372.8L647.8 373.5L648.9 374.2L650 374.9L651.1 375.7L652.3 376.4L653.4 377.1L654.6 377.9L655.7 378.6L656.9 379.3L658.1 380.1L659.3 380.9L660.4 381.6L661.7 382.4L662.9 383.2L664.1 383.9L665.3 384.7L666.6 385.5L667.8 386.3L669.1 387.1L670.4 387.9L671.7 388.7L673 389.5L674.3 390.3L675.6 391.2L676.9 392L678.3 392.9L679.6 393.7L681 394.6L682.4 395.4L683.7 396.3L685.1 397.1L686.5 398L688 398.9L689.4 399.8L690.8 400.7L692.3 401.6L693.8 402.5L695.2 403.4L696.7 404.4L698.2 405.3L699.7 406.3L701.3 407.2L702.8 408.2L704.4 409.1L705.9 410.1L707.5 411.1L709.1 412.1L710.7 413.1L712.3 414.1L714 415.1L715.6 416.1L717.3 417.1L718.9 418.2L720.6 419.2L722.3 420.3L724 421.3L725.8 422.4L727.5 423.5L729.2 424.5L731 425.6L732.8 426.7L734.6 427.9L736.4 429L738.2 430.1L740.1 431.3L741.9 432.4L743.8 433.6L745.7 434.7L747.6 435.9L749.5 437.1L751.5 438.3L753.4 439.5L755.4 440.7L757.4 442L759.4 443.2L761.4 444.4L763.4 445.7L764.4 446.3L765.5 447L766.5 447.6L767.5 448.2L768.6 448.9L769.6 449.5L770.7 450.2L771.7 450.8L772.8 451.5L773.8 452.1L774.9 452.8L776 453.5L777 454.1L778.1 454.8L779.2 455.5L780.3 456.1L781.4 456.8L782.5 457.5L783.6 458.2L784.7 458.8L785.8 459.5L786.9 460.2L788 460.9L789.1 461.6L790.3 462.3L791.4 463L792.5 463.7L793.7 464.4L794.8 465.1L796 465.8L797.1 466.5L798.3 467.3L799.4 468L800.6 468.7L801.8 469.4L803 470.2L804.2 470.9L805.3 471.6L806.5 472.4L807.7 473.1L808.9 473.9L810.1 474.6L811.4 475.4L812.6 476.1L813.8 476.9L815 477.6L816.3 478.4L817.5 479.2L818.7 479.9L820 480.7L821.2 481.5L822.5 482.2L823.8 483L825 483.8L826.3 484.6L827.6 485.4L828.9 486.2L830.2 487L831.5 487.8L832.8 488.6L834.1 489.4L835.4 490.2L836.7 491L838 491.8L839.3 492.7L840.7 493.5L842 494.3L843.4 495.1L844.7 496L846.1 496.8L847.4 497.7L848.8 498.5L850.2 499.3L851.5 500.2L852.9 501.1L854.3 501.9L855.7 502.8L857.1 503.6L858.5 504.5L859.9 505.4L861.3 506.3L862.8 507.1L864.2 508L865.6 508.9L867.1 509.8L868.5 510.7L870 511.6L871.4 512.5L872.9 513.4L874.3 514.3L875.8 515.2L877.3 516.1L878.8 517.1L880.3 518L881.8 518.9L883.3 519.8L884.8 520.8L886.3 521.7L887.8 522.7L889.4 523.6L890.9 524.6L892.5 525.5L894 526.5" fill="none" stroke="#18e018" stroke-width="3.2" stroke-linejoin="round" stroke-linecap="round"/>
<path d="M133.2 624.8L133.2 618.4L133.2 617.2L133.2 615.9L133.2 614.7L133.2 613.5L133.2 612.3L133.2 611.1L133.2 609.9L133.2 608.6L133.2 607.4L133.2 606.2L133.2 605L133.2 603.8L133.2 602.6L133.2 601.3L133.2 600.1L133.2 598.9L133.2 597.6L133.2 596.4L133.2 595.2L133.2 593.9L133.2 592.6L133.2 591.4L133.2 590.1L133.2 588.9L133.2 587.6L133.2 586.3L133.2 585.1L133.2 583.9L133.2 582.6L133.2 581.3L133.2 580L133.2 578.8L133.2 577.6L133.2 576.3L133.2 575L133.2 573.8L133.2 572.4L133.2 571.1L133.2 569.9L133.2 568.7L133.2 567.4L133.2 566.2L133.2 564.9L133.2 563.6L133.2 562.3L133.2 560.9L133.2 559.6L133.2 558.2L133.2 557L133.2 555.8L133.2 554.6L133.2 553.3L133.2 552.1L133.2 550.8L133.2 549.5L133.2 548.2L133.2 546.9L133.2 545.6L133.2 544.3L133.2 543L133.2 541.6L133.2 540.2L133.2 538.9L133.2 537.5L133.2 536.1L133.2 534.9L133.2 533.7L133.2 532.5L133.2 531.3L133.2 530L133.2 528.8L133.2 527.5L133.2 526.3L133.2 525L133.2 523.8L133.2 522.5L133.2 521.2L133.2 519.9L133.2 518.6L133.2 517.3L133.2 516L133.2 514.7L133.2 513.4L133.2 512.1L133.2 510.7L133.2 509.4L133.2 508.1L133.2 506.7L133.2 505.4L133.2 504L133.2 502.6L133.2 501.3L133.2 499.9L133.2 498.5L133.2 497.1L133.2 495.7L133.2 494.4L133.2 493L133.2 491.6L133.2 490.1L133.2 488.7L133.2 487.3L133.2 485.9L133.2 484.5L133.2 483L133.2 481.6L133.2 480.2L133.2 479L133.2 477.8L133.2 476.6L133.2 475.3L133.2 474.1L133.2 472.9L133.2 471.7L133.2 470.5L133.2 469.3L133.2 468L133.2 466.8L133.2 465.6L133.2 464.4L133.2 463.1L133.2 461.9L133.2 460.6L133.2 459.4L133.2 458.2L133.2 456.9L133.2 455.7L133.2 454.4L133.2 453.2L133.2 451.9L133.2 450.7L133.2 449.4L133.2 448.2L133.2 446.9L133.2 445.7L133.2 444.4L133.2 443.1L133.2 441.9L133.2 440.6L133.2 439.3L133.2 438.1L133.2 436.8L133.2 435.5L133.2 434.2L133.2 433L133.2 431.7L133.2 430.4L133.2 429.1L133.2 427.9L133.2 426.6L133.2 425.3L133.2 424L133.2 422.7L133.2 421.4L133.2 420.2L133.2 418.9L133.2 417.6L133.2 416.3L133.2 415L133.2 413.7L133.2 412.4L133.2 411.1L133.2 409.8L133.2 408.5L133.2 407.2L133.2 405.9L133.2 404.6L133.2 403.3L133.2 402L133.2 400.7L133.2 399.4L133.2 398.1L133.2 396.8L133.2 395.5L133.2 394.2L133.2 392.9L133.2 391.6L133.2 390.3L133.2 389L133.2 387.7L133.2 386.4L133.2 385.1L133.2 383.8L133.2 382.4L133.2 381.1L133.2 379.8L133.2 378.5L133.2 377.2L133.2 375.9L133.2 374.6L133.2 373.3L133.2 372L133.2 370.6L133.2 369.3L133.2 368L133.2 366.7L133.2 365.4L133.2 364.1L133.2 362.8L133.2 361.4L133.2 360.1L133.2 358.8L133.2 357.5L133.2 356.2L133.2 354.9L133.2 353.5L133.2 352.2L133.2 350.9L133.2 349.6L133.2 348.3L133.2 347L133.2 345.6L133.2 344.3L133.2 343L133.2 341.7L133.2 340.4L133.2 339.1L133.2 337.8L133.2 336.4L133.2 335.1L133.2 333.8L133.2 332.5L133.2 331.2L133.2 329.9L133.2 328.5L133.2 327.2L133.2 325.9L133.2 324.6L133.2 323.3L133.2 322L133.2 320.7L133.2 319.3L133.2 318L133.2 316.7L133.2 315.4L133.2 314.1L133.2 312.8L133.2 311.5L133.2 310.2L133.2 308.9L133.2 307.5L133.2 306.2L133.2 304.9L133.2 303.6L133.2 302.3L133.2 301L133.2 299.7L133.2 298.4L133.2 297.1L133.2 295.8L133.2 294.5L133.2 293.2L133.2 291.9L133.2 290.6L133.3 289.3L133.3 288L133.3 286.7L133.3 285.4L133.3 284.1L133.3 282.8L133.3 281.5L133.3 280.2L133.3 278.9L133.3 277.6L133.3 276.3L133.3 275L133.3 273.7L133.3 272.4L133.3 271.1L133.3 269.9L133.3 268.6L133.3 267.3L133.3 266L133.3 264.7L133.3 263.4L133.3 262.2L133.3 260.9L133.3 259.6L133.3 258.3L133.3 257.1L133.3 255.8L133.3 254.5L133.3 253.2L133.3 252L133.3 250.7L133.3 249.4L133.3 248.2L133.3 246.9L133.3 245.7L133.3 244.4L133.3 243.1L133.3 241.9L133.3 240.6L133.3 239.4L133.3 238.1L133.3 236.9L133.3 235.6L133.3 234.4L133.3 233.2L133.3 231.9L133.3 230.7L133.3 229.5L133.3 228.2L133.3 227L133.3 225.8L133.3 224.5L133.3 223.3L133.3 222.1L133.4 220.9L133.4 219.7L133.4 218.4L133.4 217.2L133.4 216L133.4 214.8L133.4 213.6L133.4 212.2L133.4 210.8L133.4 209.3L133.4 207.9L133.4 206.5L133.4 205.1L133.4 203.6L133.4 202.2L133.4 200.8L133.4 199.4L133.4 198.1L133.4 196.7L133.4 195.3L133.4 193.9L133.4 192.5L133.5 191.2L133.5 189.8L133.5 188.5L133.5 187.1L133.5 185.8L133.5 184.4L133.5 183.1L133.5 181.8L133.5 180.5L133.5 179.2L133.5 177.9L133.5 176.6L133.5 175.3L133.5 174L133.6 172.7L133.6 171.5L133.6 170.2L133.6 169L133.6 167.7L133.6 166.5L133.6 165.3L133.6 164L133.6 162.8L133.6 161.6L133.7 160.2L133.7 158.9L133.7 157.5L133.7 156.1L133.7 154.8L133.7 153.5L133.7 152.1L133.8 150.8L133.8 149.5L133.8 148.3L133.8 147L133.8 145.8L133.8 144.5L133.9 143.3L133.9 142.1L133.9 140.7L133.9 139.4L133.9 138.1L134 136.7L134 135.5L134 134.2L134.1 132.9L134.1 131.7L134.1 130.5L134.1 129.2L134.2 127.8L134.2 126.6L134.3 125.3L134.3 124.1L134.3 122.8L134.4 121.5L134.4 120.2L134.5 119L134.5 117.7L134.6 116.5L134.7 115.2L134.7 113.9L134.8 112.7L134.9 111.5L134.9 110.2L135 108.9L135.1 107.7L135.2 106.5L135.3 105.2L135.4 104L135.6 102.7L135.7 101.5L135.8 100.3L136 99L136.2 97.8L136.3 96.6L136.5 95.4L136.7 94.1L137 92.9L137.2 91.7L137.4 90.5L137.7 89.3L138 88L138.4 86.9L138.7 85.6L139.1 84.5L139.6 83.3L140.1 82.2L140.6 81L141.2 80L141.9 79L142.7 78L143.5 77.1L144.4 76.4L145.4 75.7L146.5 75.1L147.7 74.6L148.8 74.3L150 74L151.2 73.7L152.4 73.5L153.6 73.3L154.8 73.2L156.1 73.1L157.4 73L158.6 72.9L159.8 72.8L161.1 72.8L162.3 72.7L163.6 72.6L164.8 72.6L166.1 72.5L167.4 72.5L168.6 72.4L170 72.4L171.2 72.3L172.4 72.3L173.7 72.3L175.1 72.2L176.3 72.2L177.6 72.2L178.8 72.1L180.2 72.1L181.5 72.1L182.9 72L184.1 72L185.4 72L186.7 71.9L188 71.9L189.4 71.9L190.8 71.9L192.2 71.8L193.4 71.8L194.6 71.8L195.9 71.8L197.2 71.7L198.5 71.7L199.9 71.7L201.2 71.7L202.6 71.6L204.1 71.6L205.5 71.6L207 71.6L208.2 71.6L209.5 71.6L210.7 71.5L212 71.5L213.3 71.5L214.6 71.5L215.9 71.5L217.3 71.5L218.7 71.4L220.1 71.4L221.5 71.4L223 71.4L224.4 71.4L225.9 71.4L227.5 71.4L229 71.4L230.6 71.3L232.2 71.3L233.4 71.3L234.6 71.3L235.9 71.3L237.1 71.3L238.4 71.3L239.7 71.3L241 71.3L242.4 71.3L243.7 71.2L245.1 71.2L246.4 71.2L247.8 71.2L249.2 71.2L250.7 71.2L252.1 71.2L253.6 71.2L255.1 71.2L256.6 71.2L258.1 71.2L259.6 71.2L261.2 71.2L262.7 71.2L264.3 71.2L265.9 71.1L267.6 71.1L269.2 71.1L270.9 71.1L272.6 71.1L274.3 71.1L276 71.1L277.8 71.1L279.6 71.1L281.4 71.1L282.6 71.1L283.8 71.1L285.1 71.1L286.3 71.1L287.6 71.1L288.8 71.1L290.1 71.1L291.4 71.1L292.7 71.1L294 71.1L295.3 71.1L296.6 71.1L298 71.1L299.3 71.1L300.7 71.1L302 71.1L303.4 71.1L304.8 71.1L306.2 71.1L307.6 71.1L309.1 71.1L310.5 71.1L311.9 71.1L313.4 71L314.9 71L316.4 71L317.9 71L319.4 71L320.9 71L322.4 71L324 71L325.5 71L327.1 71L328.7 71L330.3 71L331.9 71L333.5 71L335.2 71L336.8 71L338.5 71L340.2 71L341.9 71L343.6 71L345.3 71L347 71L348.8 71L350.6 71L352.3 71L354.1 71L355.9 71L357.8 71L359.6 71L361.5 71L363.3 71L365.2 71L367.1 71L369 71L371 71L372.9 71L374.9 71L376.8 71L378.8 71L380.8 71L382.9 71L384.9 71L387 71L389 71L391.1 71L393.3 71L395.4 71L397.5 71L399.7 71L401.9 71L404.1 71L406.3 71L408.5 71L410.8 71L413 71L415.3 71L417.6 71L420 71L422.3 71L424.7 71L427.1 71L428.3 71L429.5 71L430.7 71L431.9 71L433.1 71L434.3 71L435.6 71L436.8 71L438.1 71L439.3 71L440.5 71L441.8 71L443.1 71L444.3 71L445.6 71L446.9 71L448.2 71L449.4 71L450.7 71L452 71L453.3 71L454.6 71L456 71L457.3 71L458.6 71L459.9 71L461.3 71L462.6 71L463.9 71L465.3 71L466.6 71L468 71L469.4 71L470.8 71L472.1 71L473.5 71L474.9 71L476.3 71L477.7 71L479.1 71L480.5 71L481.9 71L483.4 71L484.8 71L486.2 71L487.7 71L489.1 71L490.6 71L492 71L493.5 71L495 71L496.4 71L497.9 71L499.4 71L500.9 71L502.4 71L503.9 71L505.4 71L507 71L508.5 71L510 71L511.6 71L513.1 71L513.2 72.2L513.2 73.4L513.3 74.6L513.3 75.8L513.4 77L513.4 78.3L513.5 79.5L513.5 80.7L513.6 82L513.7 83.2L513.7 84.4L513.8 85.6L513.8 86.9L513.9 88.1L513.9 89.4L514 90.6L514.1 91.9L514.1 93.1L514.2 94.4L514.3 95.7L514.3 96.9L514.4 98.1L514.4 99.4L514.5 100.6L514.6 101.8L514.6 103.1L514.7 104.3L514.8 105.6L514.8 106.9L514.9 108.1L515 109.3L515 110.6L515.1 111.9L515.2 113.2L515.3 114.5L515.3 115.7L515.4 117L515.5 118.3L515.6 119.6L515.6 121L515.7 122.2L515.8 123.5L515.9 124.7L515.9 126L516 127.3L516.1 128.6L516.2 130L516.3 131.4L516.4 132.8L516.5 134L516.6 135.2L516.6 136.4L516.7 137.7L516.8 138.9L516.9 140.2L517 141.5L517.1 142.8L517.2 144.1L517.3 145.4L517.4 146.8L517.5 148.1L517.6 149.5L517.7 150.9L517.8 152.3L518 153.6L518.1 155L518.2 156.4L518.3 157.9L518.5 159.3L518.6 160.7L518.7 161.9L518.8 163.1L518.9 164.3L519.1 165.5L519.2 166.7L519.3 168L519.4 169.2L519.6 170.4L519.7 171.6L519.8 172.9L520 174.1L520.1 175.3L520.3 176.6L520.4 177.8L520.6 179.1L520.7 180.3L520.9 181.6L521 182.8L521.2 184.1L521.4 185.4L521.5 186.6L521.7 187.9L521.9 189.2L522.1 190.5L522.2 191.8L522.4 193.1L522.6 194.4L522.8 195.7L523 197L523.2 198.3L523.4 199.6L523.6 201L523.9 202.3L524.1 203.7L524.3 205L524.5 206.4L524.8 207.8L525 209.2L525.3 210.6L525.5 212.1L525.8 213.5L526 215L526.3 216.4L526.5 217.6L526.7 218.8L527 220L527.2 221.2L527.4 222.5L527.6 223.7L527.9 225L528.1 226.2L528.4 227.5L528.6 228.8L528.9 230.1L529.1 231.4L529.4 232.7L529.7 234L529.9 235.4L530.2 236.7L530.5 238.1L530.8 239.5L531.1 240.9L531.4 242.3L531.7 243.7L532 245.2L532.3 246.6L532.6 248.1L532.9 249.5L533.3 251L533.6 252.5L533.9 254L534.3 255.5L534.6 257L535 258.6L535.3 260.1L535.7 261.7L536 262.9L536.3 264L536.5 265.2L536.8 266.4L537.1 267.6L537.4 268.8L537.7 270L538 271.2L538.3 272.4L538.6 273.6L538.9 274.8L539.3 276L539.6 277.2L539.9 278.5L540.2 279.7L540.6 280.9L540.9 282.1L541.3 283.3L541.6 284.6L542 285.8L542.3 287L542.7 288.2L543 289.5L543.4 290.7L543.8 291.9L544.2 293.1L544.5 294.3L544.9 295.5L545.3 296.7L545.7 297.9L546.1 299.1L546.5 300.3L546.9 301.5L547.3 302.7L547.8 303.9L548.2 305L548.6 306.2L549.1 307.3L549.5 308.5L550 309.6L550.4 310.8L550.9 311.9L551.3 313L552 314.5L552.6 315.9L553.2 317.3L553.9 318.8L554.6 320.1L555.3 321.5L556 322.9L556.7 324.2L557.4 325.5L558.1 326.8L558.8 328.1L559.6 329.4L560.4 330.6L561.1 331.8L561.9 333L562.7 334.2L563.5 335.3L564.4 336.5L565.2 337.6L566.1 338.7L566.9 339.7L567.8 340.8L568.7 341.9L569.6 342.9L570.6 343.9L571.5 344.9L572.5 345.9L573.4 346.9L574.4 347.8L575.4 348.8L576.5 349.7L577.5 350.7L578.6 351.6L579.6 352.5L580.7 353.4L581.9 354.3L583 355.3L584.1 356.2L585.3 357.1L586.5 358L587.7 358.9L588.9 359.8L590.2 360.7L591.4 361.6L592.7 362.5L594 363.5L595 364.2L596 364.9L597.1 365.6L598.1 366.3L599.1 367L600.2 367.7L601.3 368.4L602.3 369.2L603.4 369.9L604.6 370.6L605.7 371.4L606.8 372.1L608 372.9L609.1 373.7L610.3 374.5L611.5 375.2L612.7 376L614 376.8L615.2 377.6L616.5 378.5L617.7 379.3L619 380.1L620.3 381L621.6 381.8L623 382.7L624.3 383.6L625.7 384.4L627.1 385.3L628.5 386.2L629.9 387.2L631.3 388.1L632.8 389L634.3 390L635.8 390.9L637.3 391.9L638.3 392.5L639.3 393.2L640.3 393.9L641.4 394.5L642.4 395.2L643.5 395.9L644.6 396.6L645.6 397.3L646.7 398L647.8 398.7L648.9 399.4L650 400.1L651.1 400.8L652.3 401.5L653.4 402.3L654.6 403L655.7 403.7L656.9 404.5L658.1 405.3L659.3 406L660.4 406.8L661.7 407.6L662.9 408.3L664.1 409.1L665.3 409.9L666.6 410.7L667.8 411.5L669.1 412.3L670.4 413.2L671.7 414L673 414.8L674.3 415.7L675.6 416.5L676.9 417.4L678.3 418.2L679.6 419.1L681 420L682.4 420.8L683.7 421.7L685.1 422.6L686.5 423.5L688 424.4L689.4 425.4L690.8 426.3L692.3 427.2L693.8 428.2L695.2 429.1L696.7 430.1L698.2 431L699.7 432L701.3 433L702.8 434L704.4 435L705.9 436L707.5 437L709.1 438L710.7 439L712.3 440.1L714 441.1L715.6 442.2L717.3 443.2L718.9 444.3L720.6 445.4L722.3 446.5L724 447.6L725.8 448.7L727.5 449.8L729.2 450.9L731 452.1L732.8 453.2L734.6 454.4L736.4 455.5L738.2 456.7L740.1 457.9L741.9 459.1L743.8 460.3L745.7 461.5L747.6 462.7L749.5 463.9L751.5 465.2L753.4 466.4L755.4 467.7L757.4 469L759.4 470.2L761.4 471.5L762.4 472.2L763.4 472.8L764.4 473.5L765.5 474.1L766.5 474.8L767.5 475.5L768.6 476.1L769.6 476.8L770.7 477.5L771.7 478.2L772.8 478.8L773.8 479.5L774.9 480.2L776 480.9L777 481.6L778.1 482.3L779.2 483L780.3 483.7L781.4 484.4L782.5 485.1L783.6 485.8L784.7 486.5L785.8 487.2L786.9 487.9L788 488.6L789.1 489.3L790.3 490.1L791.4 490.8L792.5 491.5L793.7 492.2L794.8 493L796 493.7L797.1 494.5L798.3 495.2L799.4 496L800.6 496.7L801.8 497.5L803 498.2L804.2 499L805.3 499.7L806.5 500.5L807.7 501.3L808.9 502L810.1 502.8L811.4 503.6L812.6 504.4L813.8 505.2L815 505.9L816.3 506.7L817.5 507.5L818.7 508.3L820 509.1L821.2 509.9L822.5 510.7L823.8 511.6L825 512.4L826.3 513.2L827.6 514L828.9 514.8L830.2 515.7L831.5 516.5L832.8 517.3L834.1 518.2L835.4 519L836.7 519.8L838 520.7L839.3 521.5L840.7 522.4L842 523.3L843.4 524.1L844.7 525L846.1 525.9L847.4 526.7L848.8 527.6L850.2 528.5L851.5 529.4L852.9 530.3L854.3 531.1L855.7 532L857.1 532.9L858.5 533.8L859.9 534.7L861.3 535.6L862.8 536.6L864.2 537.5L865.6 538.4L867.1 539.3L868.5 540.2L870 541.2L871.4 542.1L872.9 543.1L874.3 544L875.8 544.9L877.3 545.9L878.8 546.8L880.3 547.8L881.8 548.8L883.3 549.7L884.8 550.7L886.3 551.7L887.8 552.7L889.4 553.6L890.9 554.6L892.5 555.6L894 556.6" fill="none" stroke="#0800d8" stroke-width="3.2" stroke-linejoin="round" stroke-linecap="round"/>
<line x1="116.4" y1="395.2" x2="925.5" y2="395.2" stroke="#000" stroke-width="3.2"/>
<line x1="513.1" y1="8.5" x2="513.1" y2="656" stroke="#000" stroke-width="3.4" stroke-linecap="round"/>
<line x1="642.9" y1="6.3" x2="642.9" y2="656" stroke="#6a64b8" stroke-width="1.6" stroke-dasharray="5.2 3.4"/>
<line x1="680.8" y1="366" x2="680.8" y2="656" stroke="#78b878" stroke-width="1.4" stroke-dasharray="4.5 3.6"/>
<line x1="733.6" y1="366" x2="733.6" y2="650" stroke="#dc0c12" stroke-width="2.6" stroke-dasharray="11.5 11"/>
<line x1="852.2" y1="370" x2="852.2" y2="656" stroke="#30e0e0" stroke-width="2.3" stroke-dasharray="12.5 10"/>
<rect x="116.4" y="4.3" width="809.1" height="651.7" fill="none" stroke="#000" stroke-width="2.6"/>
<text x="345.5" y="169.5" font-size="34" fill="#000" stroke="#000" stroke-width="0.35" text-anchor="middle">Pulsed Plasma</text>
<line x1="118.4" y1="189.2" x2="510" y2="189.2" stroke="#000" stroke-width="3.4" stroke-dasharray="16 15.2" stroke-dashoffset="0"/><path d="M116.4 189.2L135.4 184.2L135.4 194.2Z" fill="#000"/><path d="M512 189.2L493 184.2L493 194.2Z" fill="#000"/>
<text x="790" y="278" font-size="34" fill="#000" stroke="#000" stroke-width="0.35" text-anchor="middle">Maintenace</text>
<line x1="516" y1="296.7" x2="922.5" y2="296.7" stroke="#000" stroke-width="3.4" stroke-dasharray="16 15.2" stroke-dashoffset="0"/><path d="M514 296.7L533 291.7L533 301.7Z" fill="#000"/><path d="M924.5 296.7L905.5 291.7L905.5 301.7Z" fill="#000"/>
<text x="989.5" y="352.7" font-size="54" fill="#000" stroke="#000" stroke-width="0.35" text-anchor="middle">(a)</text>
<text x="578.5" y="79.6" font-size="33" fill="#0800d8" stroke="#0800d8" stroke-width="0.35" text-anchor="middle">6.93 day</text>
<line x1="516.8" y1="94.4" x2="640" y2="94.4" stroke="#0800d8" stroke-width="2.8"/><path d="M514.8 94.4L531.8 89.4L531.8 99.4Z" fill="#0800d8"/><path d="M642 94.4L625 89.4L625 99.4Z" fill="#0800d8"/>
<text x="596.3" y="470.5" font-size="33" fill="#18e018" stroke="#18e018" stroke-width="0.35" text-anchor="middle">8.34 day</text>
<line x1="515.5" y1="483.3" x2="679" y2="483.3" stroke="#18e018" stroke-width="2.8"/><path d="M513.5 483.3L530.5 478.3L530.5 488.3Z" fill="#18e018"/><path d="M681 483.3L664 478.3L664 488.3Z" fill="#18e018"/>
<text x="628.5" y="554.8" font-size="33" fill="#dc0c12" stroke="#dc0c12" stroke-width="0.35" text-anchor="middle">10.09 day</text>
<line x1="515.5" y1="567.2" x2="730.5" y2="567.2" stroke="#dc0c12" stroke-width="2.8"/><path d="M513.5 567.2L531.5 562.2L531.5 572.2Z" fill="#dc0c12"/><path d="M732.5 567.2L714.5 562.2L714.5 572.2Z" fill="#dc0c12"/>
<text x="629.3" y="630.4" font-size="33" fill="#14e6e6" stroke="#14e6e6" stroke-width="0.35" text-anchor="middle">14.09 day</text>
<line x1="515.5" y1="644.4" x2="850" y2="644.4" stroke="#14e6e6" stroke-width="2.8"/><path d="M513.5 644.4L531.5 639.4L531.5 649.4Z" fill="#14e6e6"/><path d="M852 644.4L834 639.4L834 649.4Z" fill="#14e6e6"/>
<text x="319.1" y="488.9" font-size="30.5" fill="#000" stroke="#000" stroke-width="0.35" text-anchor="middle">The admissible limit</text>
<text x="320" y="525.8" font-size="30.5" fill="#000" stroke="#000" stroke-width="0.35" text-anchor="middle">for human access (1 DAC)</text>
<line x1="285.6" y1="452.1" x2="317.5" y2="410" stroke="#000" stroke-width="1.3"/>
<path d="M325.8 399.1L312.9 409.5L319.3 414.3Z" fill="#000"/>
<line x1="693" y1="49.2" x2="771.3" y2="49.2" stroke="#14e6e6" stroke-width="3.0"/>
<line x1="693" y1="91.8" x2="771.3" y2="91.8" stroke="#dc0c12" stroke-width="3.0"/>
<line x1="693" y1="134.4" x2="771.3" y2="134.4" stroke="#18e018" stroke-width="3.0"/>
<line x1="693" y1="177" x2="771.3" y2="177" stroke="#0800d8" stroke-width="3.0"/>
<text x="779" y="61.6" font-size="34" stroke="#000" stroke-width="0.35">40 m<tspan dy="-15" font-size="22">3</tspan><tspan dy="15">/h</tspan></text>
<text x="779" y="104.2" font-size="34" stroke="#000" stroke-width="0.35">60 m<tspan dy="-15" font-size="22">3</tspan><tspan dy="15">/h</tspan></text>
<text x="779" y="146.8" font-size="34" stroke="#000" stroke-width="0.35">80 m<tspan dy="-15" font-size="22">3</tspan><tspan dy="15">/h</tspan></text>
<text x="779" y="189.4" font-size="34" stroke="#000" stroke-width="0.35">100 m<tspan dy="-15" font-size="22">3</tspan><tspan dy="15">/h</tspan></text>
<line x1="124.6" y1="1319.9" x2="124.6" y2="1332.4" stroke="#000" stroke-width="2.2"/>
<line x1="204.8" y1="1319.9" x2="204.8" y2="1326.4" stroke="#000" stroke-width="2.2"/>
<line x1="284.9" y1="1319.9" x2="284.9" y2="1332.4" stroke="#000" stroke-width="2.2"/>
<line x1="365.1" y1="1319.9" x2="365.1" y2="1326.4" stroke="#000" stroke-width="2.2"/>
<line x1="445.3" y1="1319.9" x2="445.3" y2="1332.4" stroke="#000" stroke-width="2.2"/>
<line x1="525.5" y1="1319.9" x2="525.5" y2="1326.4" stroke="#000" stroke-width="2.2"/>
<line x1="605.6" y1="1319.9" x2="605.6" y2="1332.4" stroke="#000" stroke-width="2.2"/>
<line x1="685.8" y1="1319.9" x2="685.8" y2="1326.4" stroke="#000" stroke-width="2.2"/>
<line x1="766" y1="1319.9" x2="766" y2="1332.4" stroke="#000" stroke-width="2.2"/>
<line x1="846.2" y1="1319.9" x2="846.2" y2="1326.4" stroke="#000" stroke-width="2.2"/>
<line x1="926.4" y1="1319.9" x2="926.4" y2="1332.4" stroke="#000" stroke-width="2.2"/>
<line x1="118" y1="1292.8" x2="105" y2="1292.8" stroke="#000" stroke-width="2.2"/>
<line x1="118" y1="1224.9" x2="111.5" y2="1224.9" stroke="#000" stroke-width="2.2"/>
<line x1="118" y1="1157.1" x2="105" y2="1157.1" stroke="#000" stroke-width="2.2"/>
<line x1="118" y1="1089.2" x2="111.5" y2="1089.2" stroke="#000" stroke-width="2.2"/>
<line x1="118" y1="1021.3" x2="105" y2="1021.3" stroke="#000" stroke-width="2.2"/>
<line x1="118" y1="953.5" x2="111.5" y2="953.5" stroke="#000" stroke-width="2.2"/>
<line x1="118" y1="885.6" x2="105" y2="885.6" stroke="#000" stroke-width="2.2"/>
<line x1="118" y1="817.8" x2="111.5" y2="817.8" stroke="#000" stroke-width="2.2"/>
<line x1="118" y1="749.9" x2="105" y2="749.9" stroke="#000" stroke-width="2.2"/>
<line x1="118" y1="682" x2="111.5" y2="682" stroke="#000" stroke-width="2.2"/>
<text x="96.5" y="1303.1" font-size="34" fill="#000" stroke="#000" stroke-width="0.35" text-anchor="end">0.0</text>
<text x="96.5" y="1167.4" font-size="34" fill="#000" stroke="#000" stroke-width="0.35" text-anchor="end">0.5</text>
<text x="96.5" y="1031.6" font-size="34" fill="#000" stroke="#000" stroke-width="0.35" text-anchor="end">1.0</text>
<text x="96.5" y="895.9" font-size="34" fill="#000" stroke="#000" stroke-width="0.35" text-anchor="end">1.5</text>
<text x="96.5" y="760.2" font-size="34" fill="#000" stroke="#000" stroke-width="0.35" text-anchor="end">2.0</text>
<text x="124.4" y="1368.3" font-size="34" fill="#000" stroke="#000" stroke-width="0.35" text-anchor="middle">0</text>
<text x="284.8" y="1368.3" font-size="34" fill="#000" stroke="#000" stroke-width="0.35" text-anchor="middle">5</text>
<text x="445.1" y="1368.3" font-size="34" fill="#000" stroke="#000" stroke-width="0.35" text-anchor="middle">10</text>
<text x="605.4" y="1368.3" font-size="34" fill="#000" stroke="#000" stroke-width="0.35" text-anchor="middle">15</text>
<text x="765.8" y="1368.3" font-size="34" fill="#000" stroke="#000" stroke-width="0.35" text-anchor="middle">20</text>
<text x="926.1" y="1368.3" font-size="34" fill="#000" stroke="#000" stroke-width="0.35" text-anchor="middle">25</text>
<text x="523" y="1405.1" font-size="34" fill="#000" stroke="#000" stroke-width="0.35" text-anchor="middle">Time (day)</text>
<text x="0" y="0" font-size="34" fill="#000" stroke="#000" stroke-width="0.35" text-anchor="middle" transform="translate(35.8 969.3) rotate(-90)">HTO in Concrete and Paint (mg)</text>
<path d="M124.6 1292.8L126.4 1292.8L128.1 1292.8L129.9 1292.8L131.6 1292.8L133.4 1292.8L135.2 1292.8L136.9 1292.8L138.7 1292.8L140.4 1292.8L142.2 1292.8M169 1292.6L170.8 1292.5L172.5 1292.4L174.3 1292.3L176.1 1292.2L177.9 1292.1L179.6 1292L181.4 1291.8L183.2 1291.7L185 1291.5L186.7 1291.4M213.2 1287.2L214.9 1286.8L216.6 1286.4L218.4 1285.9L220.1 1285.5L221.8 1285L223.5 1284.5L225.2 1284L226.9 1283.5L228.6 1283L230.3 1282.4M254 1272.9L255.6 1272.1L257.2 1271.3L258.8 1270.5L260.4 1269.7L262 1268.9L263.6 1268.1L265.1 1267.2L266.7 1266.4L268.3 1265.5L269.8 1264.6M291.8 1250.7L293.2 1249.6L294.7 1248.6L296.1 1247.6L297.6 1246.5L299 1245.5L300.4 1244.4L301.9 1243.3L303.3 1242.3L304.7 1241.2L306.1 1240.1M326.6 1223.1L328 1222L329.3 1220.8L330.6 1219.6L332 1218.4L333.3 1217.3L334.6 1216.1L336 1214.9L337.3 1213.7L338.6 1212.5L339.9 1211.3M359.1 1193.2L360.4 1191.9L361.7 1190.7L363 1189.4L364.2 1188.2L365.5 1186.9L366.8 1185.7L368 1184.4L369.3 1183.2L370.6 1181.9L371.8 1180.7M390.5 1161.5L391.7 1160.2L392.9 1158.9L394.2 1157.6L395.4 1156.3L396.6 1155L397.8 1153.7L399 1152.4L400.2 1151.1L401.4 1149.8L402.7 1148.5M420.7 1128.6L421.9 1127.3L423 1125.9L424.2 1124.6L425.4 1123.3L426.6 1122L427.8 1120.6L429 1119.3L430.1 1118L431.3 1116.6L432.5 1115.3M450.9 1094.4L452 1093.1L453.2 1091.7L454.4 1090.4L455.5 1089L456.7 1087.7L457.9 1086.4L459 1085L460.2 1083.7L461.4 1082.3L462.5 1081M479.9 1060.6L481.1 1059.3L482.2 1057.9L483.4 1056.6L484.5 1055.2L485.7 1053.9L486.9 1052.5L488 1051.1L489.2 1049.8L490.3 1048.4L491.5 1047.1M511.2 1023.8L512.3 1022.4L513.5 1021.1L514.6 1019.7L515.8 1018.4L516.9 1017L518 1015.6L519.2 1014.3L520.3 1012.9L521.5 1011.6L522.6 1010.2M537.6 992.5L538.7 991.1L539.9 989.8L541 988.4L542.2 987L543.3 985.7L544.4 984.3L545.6 983L546.7 981.6L547.9 980.2L549 978.9M566 959L567.2 957.7L568.4 956.3L569.5 955L570.7 953.6L571.9 952.3L573.1 951L574.3 949.6L575.4 948.3L576.6 947L577.8 945.6M597.2 925L598.4 923.7L599.7 922.4L601 921.2L602.2 919.9L603.5 918.7L604.8 917.4L606.1 916.2L607.3 915L608.6 913.8L609.9 912.5M628.1 896.7L629.5 895.6L630.9 894.5L632.3 893.4L633.7 892.3L635.1 891.2L636.5 890.2L637.9 889.1L639.4 888L640.8 887L642.3 885.9M665.4 871L667 870.1L668.5 869.2L670.1 868.4L671.6 867.5L673.2 866.7L674.8 865.8L676.3 865L677.9 864.2L679.5 863.4L681.1 862.6M705.7 851.6L707.3 850.9L709 850.3L710.7 849.7L712.3 849L714 848.4L715.7 847.8L717.3 847.2L719 846.6L720.7 846L722.4 845.4M725.1 844.5L726.7 843.9L728.4 843.3L730.1 842.8L731.8 842.2L733.5 841.7L735.2 841.1L736.9 840.6L738.6 840.1L740.3 839.6L742 839M767.7 832.2L769.5 831.8L771.2 831.4L772.9 831L774.7 830.6L776.4 830.2L778.1 829.9L779.9 829.5L781.6 829.1L783.4 828.8L785.1 828.4M813.6 823.7L815.3 823.4L817.1 823.2L818.9 823L820.6 822.7L822.4 822.5L824.2 822.3L825.9 822L827.7 821.8L829.5 821.6L831.2 821.4M856.7 818.7L858.5 818.5L860.3 818.4L862.1 818.2L863.8 818.1L865.6 817.9L867.4 817.8L869.1 817.6L870.9 817.5L872.7 817.4L874.5 817.2" fill="none" stroke="#14e6e6" stroke-width="4.5" stroke-linecap="round" stroke-linejoin="round"/>
<path d="M124.6 1292.8L126.4 1292.8L128.1 1292.8L129.9 1292.8L131.6 1292.8L133.4 1292.8L135.2 1292.8L136.9 1292.8L138.7 1292.8L140.4 1292.8L142.2 1292.8M169.9 1292.2L171.7 1292.1L173.5 1292L175.2 1291.9L177 1291.8L178.8 1291.7L180.6 1291.6L182.4 1291.5L184.1 1291.4L185.9 1291.2L187.7 1291.1M214 1288L215.8 1287.7L217.5 1287.4L219.3 1287.1L221 1286.8L222.8 1286.5L224.6 1286.2L226.3 1285.9L228 1285.5L229.8 1285.2L231.5 1284.8M257.4 1278.2L259.1 1277.7L260.8 1277.2L262.5 1276.6L264.2 1276.1L265.9 1275.5L267.6 1275L269.3 1274.4L271 1273.8L272.6 1273.2L274.3 1272.6M298.3 1263.2L300 1262.5L301.6 1261.7L303.2 1261L304.9 1260.3L306.5 1259.6L308.1 1258.9L309.7 1258.1L311.4 1257.4L313 1256.6L314.6 1255.9M338.2 1244.2L339.8 1243.3L341.4 1242.5L343 1241.7L344.5 1240.8L346.1 1240L347.7 1239.1L349.2 1238.3L350.8 1237.4L352.3 1236.6L353.9 1235.7M376.1 1222.8L377.6 1221.9L379.1 1221L380.7 1220.1L382.2 1219.2L383.7 1218.2L385.2 1217.3L386.7 1216.4L388.3 1215.5L389.8 1214.5L391.3 1213.6M414.8 1198.9L416.3 1198L417.8 1197L419.3 1196.1L420.8 1195.1L422.3 1194.2L423.8 1193.2L425.3 1192.2L426.8 1191.3L428.3 1190.3L429.8 1189.3M452.5 1174.6L454 1173.6L455.4 1172.6L456.9 1171.6L458.4 1170.6L459.9 1169.7L461.4 1168.7L462.9 1167.7L464.4 1166.7L465.8 1165.7L467.3 1164.7M487.9 1151L489.4 1150L490.9 1149L492.3 1148L493.8 1147L495.3 1146L496.8 1145L498.3 1144L499.7 1143L501.2 1142L502.7 1141M522 1127.9L523.5 1126.9L525 1125.9L526.5 1124.9L527.9 1123.9L529.4 1122.9L530.9 1121.9L532.3 1120.9L533.8 1119.9L535.3 1118.9L536.8 1117.9M557.6 1103.9L559 1102.9L560.5 1101.9L562 1101L563.5 1100L565 1099L566.5 1098L568 1097.1L569.5 1096.1L571 1095.1L572.5 1094.2M595.8 1080L597.4 1079.1L598.9 1078.3L600.5 1077.4L602 1076.5L603.6 1075.7L605.2 1074.8L606.7 1074L608.3 1073.1L609.9 1072.3L611.5 1071.5M636.8 1059.6L638.4 1058.9L640 1058.2L641.7 1057.6L643.3 1056.9L645 1056.2L646.7 1055.6L648.3 1055L650 1054.3L651.6 1053.7L653.3 1053.1M678.4 1044.9L680.1 1044.4L681.8 1043.9L683.6 1043.4L685.3 1043L687 1042.5L688.7 1042.1L690.4 1041.6L692.2 1041.2L693.9 1040.8L695.6 1040.3M721 1034.9L722.8 1034.6L724.5 1034.3L726.3 1034L728 1033.7L729.8 1033.4L731.6 1033.1L733.3 1032.8L735.1 1032.5L736.8 1032.2L738.6 1031.9M765.5 1028.2L767.2 1028L769 1027.8L770.8 1027.6L772.5 1027.4L774.3 1027.2L776.1 1027L777.8 1026.8L779.6 1026.6L781.4 1026.4L783.1 1026.3M797 1024.9L798.8 1024.8L800.6 1024.6L802.4 1024.5L804.1 1024.3L805.9 1024.2L807.7 1024L809.4 1023.9L811.2 1023.8L813 1023.6L814.8 1023.5M842.1 1021.8L843.9 1021.7L845.7 1021.6L847.4 1021.5L849.2 1021.4L851 1021.3L852.8 1021.2L854.6 1021.2L856.3 1021.1L858.1 1021L859.9 1020.9M886.6 1019.8L888.4 1019.7L890.2 1019.6L891.9 1019.6L893.7 1019.5L895.5 1019.4L897.3 1019.4L899.1 1019.3L900.8 1019.3L902.6 1019.2L904.4 1019.1" fill="none" stroke="#dc0c12" stroke-width="4.5" stroke-linecap="round" stroke-linejoin="round"/>
<path d="M124.6 1292.8L126.4 1292.8L128.1 1292.8L129.9 1292.8L131.6 1292.8L133.4 1292.8L135.2 1292.8L136.9 1292.8L138.7 1292.8L140.4 1292.8L142.2 1292.8M169.9 1292.3L171.7 1292.2L173.5 1292.2L175.2 1292.1L177 1292L178.8 1291.9L180.6 1291.8L182.4 1291.7L184.1 1291.6L185.9 1291.5L187.7 1291.4M214 1288.7L215.8 1288.4L217.5 1288.2L219.3 1287.9L221 1287.6L222.8 1287.3L224.6 1287.1L226.3 1286.8L228.1 1286.4L229.8 1286.1L231.6 1285.8M256.8 1280L258.5 1279.5L260.2 1279.1L261.9 1278.6L263.6 1278.1L265.3 1277.6L267 1277L268.7 1276.5L270.4 1276L272.1 1275.4L273.8 1274.9M298.1 1265.9L299.7 1265.2L301.4 1264.6L303 1263.9L304.6 1263.2L306.3 1262.5L307.9 1261.8L309.6 1261.2L311.2 1260.5L312.9 1259.8L314.5 1259.1M338.1 1248.4L339.7 1247.7L341.3 1246.9L342.9 1246.1L344.5 1245.4L346.1 1244.6L347.7 1243.8L349.3 1243.1L350.9 1242.3L352.5 1241.5L354.1 1240.7M378 1228.6L379.6 1227.7L381.2 1226.9L382.7 1226.1L384.3 1225.3L385.9 1224.4L387.5 1223.6L389 1222.8L390.6 1221.9L392.2 1221.1L393.8 1220.3M417.8 1207.2L419.4 1206.4L420.9 1205.5L422.5 1204.6L424 1203.8L425.6 1202.9L427.2 1202L428.7 1201.2L430.3 1200.3L431.8 1199.4L433.4 1198.6M456.5 1185.4L458 1184.5L459.6 1183.6L461.1 1182.7L462.7 1181.8L464.2 1180.9L465.7 1180L467.3 1179.1L468.8 1178.2L470.3 1177.3L471.9 1176.4M493 1163.8L494.6 1162.9L496.1 1162L497.6 1161.1L499.2 1160.2L500.7 1159.3L502.2 1158.4L503.8 1157.5L505.3 1156.6L506.8 1155.7L508.4 1154.8M531.4 1141.4L532.9 1140.5L534.5 1139.6L536 1138.7L537.6 1137.8L539.1 1136.9L540.6 1136L542.2 1135.1L543.7 1134.2L545.3 1133.3L546.8 1132.4M569.4 1119.7L570.9 1118.8L572.5 1118L574.1 1117.2L575.6 1116.3L577.2 1115.5L578.8 1114.6L580.3 1113.8L581.9 1113L583.5 1112.2L585.1 1111.4M610 1099.5L611.6 1098.8L613.3 1098.1L614.9 1097.4L616.6 1096.7L618.2 1096L619.8 1095.3L621.5 1094.6L623.1 1094L624.8 1093.3L626.5 1092.7M652.6 1083.6L654.3 1083.1L656 1082.6L657.7 1082.1L659.4 1081.6L661.1 1081.1L662.8 1080.6L664.5 1080.1L666.2 1079.6L668 1079.2L669.7 1078.7M696.5 1072.5L698.2 1072.1L700 1071.8L701.7 1071.4L703.5 1071.1L705.2 1070.8L706.9 1070.4L708.7 1070.1L710.5 1069.8L712.2 1069.5L714 1069.2M740.9 1065L742.6 1064.8L744.4 1064.6L746.2 1064.4L747.9 1064.1L749.7 1063.9L751.5 1063.7L753.2 1063.5L755 1063.3L756.8 1063.1L758.5 1062.9M785.3 1060.3L787.1 1060.2L788.9 1060L790.7 1059.9L792.4 1059.8L794.2 1059.6L796 1059.5L797.8 1059.4L799.5 1059.3L801.3 1059.1L803.1 1059M829.7 1057.5L831.5 1057.4L833.3 1057.3L835 1057.2L836.8 1057.1L838.6 1057.1L840.4 1057L842.2 1056.9L843.9 1056.8L845.7 1056.8L847.5 1056.7M874.8 1055.8L876.6 1055.8L878.4 1055.7L880.1 1055.7L881.9 1055.6L883.7 1055.6L885.5 1055.5L887.3 1055.5L889 1055.4L890.8 1055.4L892.6 1055.3" fill="none" stroke="#18e018" stroke-width="4.5" stroke-linecap="round" stroke-linejoin="round"/>
<path d="M124.6 1292.8L126.4 1292.8L128.2 1292.8L129.9 1292.8L131.7 1292.8L133.5 1292.8L135.3 1292.8L137.1 1292.8L138.8 1292.8L140.6 1292.8L142.4 1292.8M169.9 1292.3L171.7 1292.3L173.5 1292.2L175.2 1292.1L177 1292.1L178.8 1292L180.6 1291.9L182.4 1291.8L184.1 1291.7L185.9 1291.6L187.7 1291.5M214 1289.1L215.7 1288.9L217.5 1288.7L219.3 1288.5L221 1288.2L222.8 1288L224.6 1287.7L226.3 1287.5L228.1 1287.2L229.8 1286.9L231.6 1286.7M258.6 1281.5L260.4 1281.1L262.1 1280.8L263.8 1280.4L265.6 1280L267.3 1279.6L269 1279.2L270.8 1278.7L272.5 1278.3L274.2 1277.9L275.9 1277.5M301.3 1270.3L303 1269.8L304.7 1269.2L306.4 1268.7L308.1 1268.1L309.8 1267.6L311.5 1267L313.2 1266.4L314.9 1265.8L316.5 1265.2L318.2 1264.7M342.1 1255.6L343.8 1254.9L345.4 1254.3L347.1 1253.6L348.8 1252.9L350.4 1252.3L352 1251.6L353.7 1250.9L355.3 1250.3L357 1249.6L358.6 1248.9M383 1238.6L384.7 1237.9L386.3 1237.2L387.9 1236.5L389.6 1235.8L391.2 1235.1L392.8 1234.4L394.5 1233.7L396.1 1233L397.7 1232.3L399.4 1231.6M423.9 1220.7L425.5 1220L427.1 1219.3L428.8 1218.6L430.4 1217.8L432 1217.1L433.6 1216.3L435.2 1215.6L436.9 1214.9L438.5 1214.1L440.1 1213.4M464.8 1201.8L466.4 1201L468 1200.2L469.6 1199.5L471.2 1198.7L472.8 1197.9L474.4 1197.1L476 1196.4L477.6 1195.6L479.2 1194.8L480.8 1194M505.2 1182.1L506.8 1181.3L508.4 1180.5L510 1179.7L511.6 1179L513.2 1178.2L514.8 1177.4L516.4 1176.6L518 1175.8L519.6 1175L521.2 1174.3M545.3 1162.6L546.9 1161.8L548.5 1161.1L550.1 1160.3L551.7 1159.6L553.3 1158.8L554.9 1158L556.5 1157.3L558.1 1156.5L559.7 1155.8L561.4 1155M585.6 1144.3L587.2 1143.6L588.9 1142.9L590.5 1142.2L592.2 1141.5L593.8 1140.8L595.5 1140.2L597.1 1139.5L598.8 1138.9L600.4 1138.2L602.1 1137.6M627.3 1128.7L629 1128.1L630.7 1127.6L632.4 1127.1L634.1 1126.6L635.8 1126.1L637.5 1125.5L639.2 1125L640.9 1124.6L642.6 1124.1L644.4 1123.6M671.5 1116.9L673.2 1116.6L675 1116.2L676.7 1115.9L678.5 1115.5L680.2 1115.2L681.9 1114.8L683.7 1114.5L685.4 1114.2L687.2 1113.9L688.9 1113.5M715.7 1109.4L717.4 1109.2L719.2 1109L721 1108.8L722.7 1108.5L724.5 1108.3L726.3 1108.1L728 1107.9L729.8 1107.7L731.6 1107.5L733.3 1107.3M760.1 1104.8L761.9 1104.7L763.7 1104.5L765.4 1104.4L767.2 1104.3L769 1104.2L770.8 1104L772.6 1103.9L774.3 1103.8L776.1 1103.7L777.9 1103.6M798.1 1102.4L799.9 1102.3L801.7 1102.2L803.4 1102.1L805.2 1102.1L807 1102L808.8 1101.9L810.6 1101.8L812.3 1101.7L814.1 1101.7L815.9 1101.6M842.6 1100.6L844.4 1100.6L846.2 1100.5L847.9 1100.5L849.7 1100.4L851.5 1100.4L853.3 1100.3L855.1 1100.3L856.8 1100.2L858.6 1100.1L860.4 1100.1M882.1 1099.4L883.8 1099.3L885.6 1099.3L887.3 1099.2L889.1 1099.2L890.8 1099.1L892.6 1099.1L894.3 1099" fill="none" stroke="#0800d8" stroke-width="4.5" stroke-linecap="round" stroke-linejoin="round"/>
<path d="M124.6 1292.8L124.6 1292.8L124.8 1291.6L125 1290.4L125.1 1289.2L125.3 1288L125.5 1286.8L125.7 1285.6L125.8 1284.4L126 1283.2L126.2 1282L126.4 1280.8L126.6 1279.6L126.7 1278.4L126.9 1277.2L127.1 1276L127.3 1274.8L127.5 1273.6L127.6 1272.4L127.8 1271.2L128 1270L128.2 1268.8L128.4 1267.6L128.6 1266.3L128.8 1265.1L128.9 1263.9L129.1 1262.6L129.3 1261.4L129.5 1260.1L129.7 1258.9L129.9 1257.7L130.1 1256.5L130.3 1255.2L130.5 1253.9L130.7 1252.7L130.9 1251.5L131.1 1250.2L131.3 1249L131.5 1247.7L131.7 1246.5L131.9 1245.2L132.1 1244L132.3 1242.7L132.5 1241.5L132.7 1240.2L132.9 1238.9L133.1 1237.7L133.3 1236.4L133.6 1235.2L133.8 1233.9L134 1232.6L134.2 1231.3L134.4 1230.1L134.6 1228.9L134.8 1227.6L135 1226.4L135.2 1225.1L135.5 1223.8L135.7 1222.5L135.9 1221.2L136.1 1219.8L136.3 1218.6L136.6 1217.4L136.8 1216.2L137 1214.9L137.2 1213.7L137.4 1212.4L137.7 1211.1L137.9 1209.8L138.1 1208.4L138.4 1207.1L138.6 1205.7L138.9 1204.3L139.1 1202.9L139.3 1201.7L139.5 1200.5L139.8 1199.3L140 1198L140.2 1196.8L140.4 1195.5L140.7 1194.2L140.9 1192.9L141.1 1191.6L141.4 1190.3L141.6 1188.9L141.9 1187.6L142.1 1186.2L142.4 1184.8L142.7 1183.4L142.9 1182L143.2 1180.5L143.5 1179.1L143.7 1177.6L144 1176.4L144.2 1175.2L144.4 1174L144.7 1172.8L144.9 1171.6L145.1 1170.3L145.4 1169.1L145.6 1167.8L145.9 1166.5L146.1 1165.2L146.4 1163.9L146.6 1162.6L146.9 1161.3L147.2 1160L147.4 1158.6L147.7 1157.3L148 1155.9L148.2 1154.5L148.5 1153.1L148.8 1151.7L149.1 1150.3L149.4 1148.9L149.7 1147.5L150 1146L150.3 1144.5L150.6 1143.1L150.9 1141.6L151.2 1140.1L151.5 1138.6L151.8 1137.1L152.1 1135.5L152.4 1134L152.8 1132.4L153 1131.2L153.3 1130.1L153.5 1128.9L153.8 1127.7L154 1126.5L154.3 1125.3L154.6 1124L154.8 1122.8L155.1 1121.6L155.4 1120.3L155.6 1119.1L155.9 1117.8L156.2 1116.6L156.5 1115.3L156.7 1114L157 1112.8L157.3 1111.5L157.6 1110.2L157.9 1108.9L158.2 1107.6L158.5 1106.2L158.8 1104.9L159.1 1103.6L159.4 1102.2L159.7 1100.9L160 1099.5L160.3 1098.2L160.6 1096.8L160.9 1095.4L161.3 1094L161.6 1092.7L161.9 1091.3L162.2 1089.9L162.6 1088.4L162.9 1087L163.2 1085.6L163.6 1084.2L163.9 1082.7L164.3 1081.3L164.6 1079.8L165 1078.4L165.3 1076.9L165.7 1075.4L166 1073.9L166.4 1072.4L166.8 1070.9L167.1 1069.4L167.5 1067.9L167.9 1066.4L168.3 1064.9L168.7 1063.3L169.1 1061.8L169.4 1060.3L169.8 1058.7L170.2 1057.1L170.6 1055.6L171.1 1054L171.5 1052.4L171.9 1050.8L172.3 1049.2L172.7 1047.6L173.1 1046L173.6 1044.4L174 1042.8L174.4 1041.2L174.9 1039.5L175.3 1037.9L175.8 1036.2L176.2 1034.6L176.7 1032.9L177.1 1031.2L177.6 1029.6L178.1 1027.9L178.5 1026.2L179 1024.5L179.5 1022.8L180 1021.1L180.4 1019.4L180.9 1017.7L181.4 1015.9L181.8 1014.8L182.1 1013.6L182.4 1012.5L182.8 1011.3L183.1 1010.1L183.5 1009L183.8 1007.8L184.2 1006.6L184.5 1005.4L184.9 1004.3L185.2 1003.1L185.6 1001.9L185.9 1000.7L186.3 999.5L186.6 998.3L187 997.2L187.4 996L187.7 994.8L188.1 993.6L188.5 992.4L188.9 991.2L189.2 989.9L189.6 988.7L190 987.5L190.4 986.3L190.8 985.1L191.2 983.9L191.6 982.7L191.9 981.4L192.3 980.2L192.7 979L193.1 977.8L193.5 976.5L193.9 975.3L194.3 974.1L194.8 972.8L195.2 971.6L195.6 970.4L196 969.1L196.4 967.9L196.8 966.6L197.3 965.4L197.7 964.1L198.1 962.9L198.5 961.6L199 960.4L199.4 959.1L199.9 957.9L200.3 956.6L200.7 955.3L201.2 954.1L201.6 952.8L202.1 951.5L202.5 950.3L203 949L203.5 947.7L203.9 946.5L204.4 945.2L204.9 943.9L205.3 942.6L205.8 941.4L206.3 940.1L206.8 938.8L207.2 937.5L207.7 936.3L208.2 935L208.7 933.7L209.2 932.4L209.7 931.1L210.2 929.8L210.7 928.6L211.2 927.3L211.7 926L212.2 924.7L212.7 923.4L213.3 922.1L213.8 920.8L214.3 919.5L214.8 918.2L215.3 916.9L215.9 915.7L216.4 914.4L217 913.1L217.5 911.8L218 910.5L218.6 909.2L219.1 907.9L219.7 906.6L220.3 905.3L220.8 904L221.4 902.7L221.9 901.4L222.5 900.1L223.1 898.8L223.7 897.5L224.3 896.2L224.8 894.9L225.4 893.7L226 892.4L226.6 891.1L227.2 889.8L227.8 888.5L228.4 887.2L229 885.9L229.6 884.6L230.3 883.3L230.9 882L231.5 880.7L232.1 879.5L232.8 878.2L233.4 876.9L234 875.6L234.7 874.3L235.3 873L236 871.7L236.6 870.5L237.3 869.2L237.9 867.9L238.6 866.6L239.3 865.3L239.9 864.1L240.6 862.8L241.3 861.5L242 860.3L242.7 859L243.4 857.7L244.1 856.5L244.8 855.2L245.5 853.9L246.2 852.7L246.9 851.4L247.6 850.1L248.3 848.9L249.1 847.6L249.8 846.4L250.5 845.1L251.3 843.9L252 842.7L252.7 841.4L253.5 840.2L254.3 838.9L255 837.7L255.8 836.5L256.6 835.2L257.3 834L258.1 832.8L258.9 831.6L259.7 830.3L260.5 829.1L261.3 827.9L262.1 826.7L262.9 825.5L263.7 824.3L264.5 823.1L265.3 821.9L266.1 820.7L267 819.5L267.8 818.3L268.7 817.1L269.5 815.9L270.3 814.8L271.2 813.6L272.1 812.4L272.9 811.2L273.8 810.1L274.7 808.9L275.6 807.8L276.4 806.6L277.3 805.5L278.2 804.3L279.1 803.2L280 802L280.9 800.9L281.9 799.8L282.8 798.6L283.7 797.5L284.6 796.4L285.6 795.3L286.5 794.2L287.5 793.1L288.4 792L289.4 790.9L290.4 789.8L291.3 788.7L292.3 787.6L293.3 786.5L294.3 785.5L295.3 784.4L296.3 783.3L297.3 782.3L298.3 781.2L299.3 780.2L300.3 779.1L301.4 778.1L302.4 777L303.5 776L304.5 775L305.6 774L306.6 772.9L307.7 771.9L308.8 770.9L309.8 769.9L310.9 768.9L312 767.9L313.1 767L314.2 766L315.3 765L316.5 764L317.6 763.1L318.7 762.1L319.9 761.2L321 760.2L322.2 759.3L323.3 758.4L324.5 757.4L325.7 756.5L326.8 755.6L328 754.7L329.2 753.8L330.4 752.9L331.6 752L332.8 751.1L334.1 750.2L335.3 749.3L336.5 748.5L337.8 747.6L339 746.8L340.3 745.9L341.5 745.1L342.8 744.2L344.1 743.4L345.4 742.6L346.7 741.7L348 740.9L349.3 740.1L350.6 739.3L351.9 738.5L353.3 737.7L354.6 736.9L356 736.2L357.3 735.4L358.7 734.6L360.1 733.9L361.4 733.1L362.8 732.4L364.2 731.6L365.6 730.9L367 730.2L368.5 729.4L369.9 728.7L371.3 728L372.8 727.3L374.2 726.6L375.7 725.9L377.2 725.3L378.7 724.6L380.1 723.9L381.6 723.2L383.2 722.6L384.7 721.9L386.2 721.3L387.7 720.6L389.3 720L390.8 719.4L392.4 718.8L394 718.2L395.5 717.6L397.1 717L398.7 716.4L400.3 715.8L401.9 715.2L403.6 714.6L405.2 714L406.9 713.5L408.5 712.9L410.2 712.4L411.9 711.8L413.5 711.3L415.2 710.8L416.9 710.2L418.7 709.7L420.4 709.2L422.1 708.7L423.9 708.2L425.6 707.7L427.4 707.2L429.2 706.7L430.9 706.2L432.7 705.8L434.6 705.3L436.4 704.9L438.2 704.4L440 704L441.9 703.5L443.7 703.1L445.6 702.6L447.5 702.2L449.4 701.8L451.3 701.4L453.2 701L455.1 700.6L457.1 700.2L459 699.8L461 699.4L463 699L465 698.7L467 698.3L469 697.9L471 697.6L473 697.2L475.1 696.9L477.1 696.5L479.2 696.2L481.3 695.9L483.4 695.5L485.5 695.2L487.6 694.9L489.7 694.6L491.8 694.3L494 694L496.2 693.7L498.3 693.4L500.5 693.1L502.7 692.8L505 692.5L507.2 692.3L509.4 692L510.7 693.1L510.8 694.3L511 695.5L511.1 696.7L511.3 697.9L511.5 699.1L511.6 700.3L511.8 701.5L512 702.7L512.2 703.9L512.3 705.1L512.5 706.3L512.7 707.5L512.9 708.7L513 709.9L513.2 711.2L513.4 712.4L513.6 713.7L513.8 714.9L514 716.2L514.2 717.4L514.3 718.6L514.5 719.9L514.7 721.1L514.9 722.3L515.1 723.5L515.3 724.8L515.5 726L515.7 727.2L515.9 728.5L516.1 729.7L516.3 730.9L516.5 732.2L516.7 733.5L516.9 734.7L517.1 735.9L517.3 737.2L517.6 738.5L517.8 739.7L518 740.9L518.2 742.2L518.4 743.5L518.6 744.8L518.8 746.2L519.1 747.4L519.3 748.6L519.5 749.9L519.7 751.2L519.9 752.5L520.2 753.8L520.4 755.2L520.6 756.4L520.8 757.6L521 758.9L521.3 760.1L521.5 761.4L521.7 762.7L522 764.1L522.2 765.4L522.5 766.8L522.7 768.2L522.9 769.4L523.2 770.6L523.4 771.9L523.6 773.1L523.8 774.4L524.1 775.7L524.3 777L524.6 778.3L524.8 779.6L525.1 781L525.3 782.4L525.6 783.7L525.8 785.2L526.1 786.6L526.4 788.1L526.6 789.2L526.8 790.4L527.1 791.7L527.3 792.9L527.5 794.1L527.8 795.4L528 796.6L528.3 797.9L528.5 799.2L528.8 800.5L529 801.8L529.3 803.2L529.6 804.5L529.8 805.9L530.1 807.3L530.4 808.6L530.7 810.1L530.9 811.5L531.2 812.9L531.5 814.4L531.8 815.9L532.1 817.3L532.4 818.8L532.7 820.4L533 821.9L533.4 823.4L533.7 825L533.9 826.2L534.2 827.4L534.4 828.6L534.7 829.8L534.9 831L535.2 832.3L535.5 833.5L535.7 834.8L536 836L536.2 837.3L536.5 838.6L536.8 839.9L537.1 841.2L537.4 842.5L537.6 843.8L537.9 845.1L538.2 846.4L538.5 847.8L538.8 849.1L539.1 850.5L539.4 851.9L539.7 853.3L540 854.7L540.3 856.1L540.6 857.5L541 858.9L541.3 860.3L541.6 861.8L541.9 863.2L542.3 864.7L542.6 866.2L542.9 867.7L543.3 869.1L543.6 870.6L544 872.2L544.3 873.7L544.7 875.2L545 876.8L545.4 878.3L545.8 879.9L546.2 881.4L546.5 883L546.9 884.6L547.3 886.2L547.7 887.8L548.1 889.5L548.5 891.1L548.9 892.7L549.3 894.4L549.7 896L550.1 897.7L550.5 899.4L550.9 901.1L551.4 902.8L551.8 904.5L552.2 906.2L552.7 908L553.1 909.7L553.4 910.9L553.7 912L554 913.2L554.3 914.4L554.6 915.6L554.9 916.7L555.3 917.9L555.6 919.1L555.9 920.3L556.2 921.5L556.5 922.7L556.9 923.9L557.2 925.2L557.5 926.4L557.8 927.6L558.2 928.8L558.5 930.1L558.8 931.3L559.2 932.5L559.5 933.8L559.9 935L560.2 936.3L560.6 937.5L560.9 938.8L561.3 940.1L561.6 941.3L562 942.6L562.3 943.9L562.7 945.2L563.1 946.4L563.4 947.7L563.8 949L564.2 950.3L564.6 951.6L565 952.9L565.3 954.2L565.7 955.5L566.1 956.8L566.5 958.1L566.9 959.5L567.3 960.8L567.7 962.1L568.1 963.4L568.5 964.8L568.9 966.1L569.3 967.4L569.7 968.8L570.1 970.1L570.6 971.5L571 972.8L571.4 974.2L571.8 975.5L572.3 976.9L572.7 978.3L573.1 979.6L573.6 981L574 982.4L574.5 983.8L574.9 985.1L575.4 986.5L575.8 987.9L576.3 989.3L576.7 990.7L577.2 992.1L577.7 993.5L578.1 994.9L578.6 996.3L579.1 997.7L579.6 999.1L580.1 1000.5L580.6 1001.9L581 1003.3L581.5 1004.7L582 1006.2L582.5 1007.6L583.1 1009L583.6 1010.4L584.1 1011.9L584.6 1013.3L585.1 1014.7L585.6 1016.1L586.2 1017.6L586.7 1019L587.2 1020.5L587.8 1021.9L588.3 1023.3L588.9 1024.8L589.4 1026.2L590 1027.7L590.5 1029.1L591.1 1030.6L591.6 1032L592.2 1033.5L592.8 1034.9L593.4 1036.4L594 1037.8L594.5 1039.3L595.1 1040.7L595.7 1042.2L596.3 1043.6L596.9 1045.1L597.5 1046.6L598.1 1048L598.8 1049.5L599.4 1051L600 1052.4L600.6 1053.9L601.3 1055.3L601.9 1056.8L602.5 1058.3L603.2 1059.7L603.8 1061.2L604.5 1062.7L605.2 1064.1L605.8 1065.6L606.5 1067L607.2 1068.5L607.8 1070L608.5 1071.4L609.2 1072.9L609.9 1074.4L610.6 1075.8L611.3 1077.3L612 1078.7L612.7 1080.2L613.5 1081.7L614.2 1083.1L614.9 1084.6L615.6 1086L616.4 1087.5L617.1 1088.9L617.9 1090.4L618.6 1091.8L619.4 1093.3L620.1 1094.7L620.9 1096.2L621.7 1097.6L622.5 1099.1L623.3 1100.5L624 1101.9L624.8 1103.4L625.7 1104.8L626.5 1106.3L627.3 1107.7L628.1 1109.1L628.9 1110.5L629.8 1112L630.6 1113.4L631.4 1114.8L632.3 1116.2L633.1 1117.6L634 1119.1L634.9 1120.5L635.7 1121.9L636.6 1123.3L637.5 1124.7L638.4 1126.1L639.3 1127.5L640.2 1128.9L641.1 1130.2L642 1131.6L643 1133L643.9 1134.4L644.8 1135.8L645.8 1137.1L646.7 1138.5L647.7 1139.9L648.6 1141.2L649.6 1142.6L650.6 1143.9L651.6 1145.3L652.6 1146.6L653.6 1147.9L654.6 1149.3L655.6 1150.6L656.6 1151.9L657.6 1153.3L658.6 1154.6L659.7 1155.9L660.7 1157.2L661.8 1158.5L662.9 1159.8L663.9 1161.1L665 1162.4L666.1 1163.7L667.2 1164.9L668.3 1166.2L669.4 1167.5L670.5 1168.7L671.6 1170L672.8 1171.2L673.9 1172.5L675 1173.7L676.2 1175L677.4 1176.2L678.5 1177.4L679.7 1178.6L680.9 1179.9L682.1 1181.1L683.3 1182.3L684.5 1183.5L685.7 1184.6L687 1185.8L688.2 1187L689.5 1188.2L690.7 1189.3L692 1190.5L693.3 1191.7L694.5 1192.8L695.8 1193.9L697.1 1195.1L698.5 1196.2L699.8 1197.3L701.1 1198.4L702.4 1199.5L703.8 1200.6L705.1 1201.7L706.5 1202.8L707.9 1203.9L709.3 1205L710.7 1206L712.1 1207.1L713.5 1208.1L714.9 1209.2L716.4 1210.2L717.8 1211.3L719.3 1212.3L720.7 1213.3L722.2 1214.3L723.7 1215.3L725.2 1216.3L726.7 1217.3L728.2 1218.3L729.7 1219.3L731.3 1220.2L732.8 1221.2L734.4 1222.1L736 1223.1L737.6 1224L739.1 1225L740.8 1225.9L742.4 1226.8L744 1227.7L745.6 1228.6L747.3 1229.5L749 1230.4L750.6 1231.3L752.3 1232.1L754 1233L755.7 1233.9L757.4 1234.7L759.2 1235.5L760.9 1236.4L762.7 1237.2L764.5 1238L766.2 1238.8L768 1239.6L769.8 1240.4L771.7 1241.2L773.5 1242L775.3 1242.8L777.2 1243.6L779.1 1244.3L781 1245.1L782.9 1245.8L784.8 1246.5L786.7 1247.3L788.6 1248L790.6 1248.7L792.6 1249.4L794.6 1250.1L796.5 1250.8L798.6 1251.5L800.6 1252.2L802.6 1252.8L804.7 1253.5L806.7 1254.2L808.8 1254.8L810.9 1255.4L813 1256.1L815.1 1256.7L817.3 1257.3L819.4 1257.9L821.6 1258.5L823.8 1259.1L826 1259.7L828.2 1260.3L830.4 1260.9L832.7 1261.5L835 1262L837.2 1262.6L839.5 1263.1L841.8 1263.7L844.2 1264.2L846.5 1264.7L847.7 1265L848.9 1265.2L850.1 1265.5L851.2 1265.8L852.4 1266L853.6 1266.3L854.8 1266.5L856 1266.8L857.3 1267L858.5 1267.3L859.7 1267.5L860.9 1267.7L862.1 1268L863.4 1268.2L864.6 1268.5L865.9 1268.7L867.1 1268.9L868.4 1269.2L869.6 1269.4L870.9 1269.6L872.1 1269.9L873.4 1270.1L874.7 1270.3L875.9 1270.5L877.2 1270.8L878.5 1271L879.8 1271.2L881.1 1271.4L882.4 1271.6L883.7 1271.8L885 1272.1L886.3 1272.3L887.6 1272.5L889 1272.7L890.3 1272.9L891.6 1273.1L893 1273.3L894.3 1273.5" fill="none" stroke="#14e6e6" stroke-width="4.5" stroke-linejoin="round" stroke-linecap="round"/>
<path d="M124.6 1292.8L124.6 1292.8L124.8 1291.6L125.1 1290.4L125.3 1289.2L125.5 1288.1L125.7 1286.9L126 1285.7L126.2 1284.5L126.4 1283.3L126.7 1282.1L126.9 1280.9L127.1 1279.7L127.4 1278.5L127.6 1277.3L127.9 1276.1L128.1 1274.9L128.4 1273.7L128.6 1272.5L128.9 1271.3L129.1 1270.1L129.4 1268.8L129.7 1267.6L129.9 1266.4L130.2 1265.3L130.4 1264L130.7 1262.9L131 1261.6L131.2 1260.4L131.5 1259.2L131.8 1258L132.1 1256.8L132.4 1255.5L132.6 1254.3L132.9 1253.1L133.2 1251.8L133.5 1250.6L133.8 1249.4L134.1 1248.1L134.4 1247L134.7 1245.8L135 1244.5L135.3 1243.3L135.6 1242L135.9 1240.8L136.2 1239.6L136.5 1238.4L136.8 1237.2L137.1 1235.9L137.5 1234.6L137.8 1233.4L138.1 1232.3L138.4 1231L138.7 1229.8L139.1 1228.6L139.4 1227.3L139.8 1226L140.1 1224.7L140.4 1223.5L140.8 1222.4L141.1 1221.2L141.4 1220L141.8 1218.7L142.1 1217.5L142.5 1216.3L142.9 1215L143.3 1213.7L143.6 1212.4L144 1211.1L144.4 1209.7L144.8 1208.6L145.1 1207.4L145.5 1206.2L145.9 1205L146.3 1203.8L146.6 1202.6L147 1201.4L147.4 1200.1L147.8 1198.9L148.2 1197.6L148.7 1196.3L149.1 1195L149.5 1193.7L150 1192.4L150.4 1191.1L150.9 1189.8L151.3 1188.4L151.7 1187.3L152.1 1186.1L152.5 1185L152.9 1183.8L153.4 1182.7L153.8 1181.5L154.2 1180.3L154.6 1179.1L155.1 1177.9L155.5 1176.7L156 1175.5L156.5 1174.3L156.9 1173L157.4 1171.8L157.9 1170.6L158.4 1169.3L158.9 1168L159.4 1166.8L159.9 1165.5L160.4 1164.2L160.9 1162.9L161.5 1161.6L162 1160.3L162.6 1159L163.1 1157.7L163.7 1156.3L164.3 1155L164.8 1153.6L165.4 1152.3L166 1150.9L166.7 1149.6L167.1 1148.5L167.6 1147.3L168.2 1146.2L168.7 1145.1L169.2 1144L169.7 1142.9L170.2 1141.8L170.8 1140.6L171.3 1139.5L171.9 1138.4L172.4 1137.2L173 1136.1L173.6 1134.9L174.1 1133.8L174.7 1132.6L175.3 1131.4L175.9 1130.3L176.5 1129.1L177.1 1127.9L177.7 1126.7L178.4 1125.5L179 1124.4L179.6 1123.2L180.3 1122L180.9 1120.8L181.6 1119.6L182.3 1118.4L183 1117.1L183.6 1115.9L184.3 1114.7L185 1113.5L185.7 1112.3L186.5 1111L187.2 1109.8L187.9 1108.6L188.7 1107.3L189.4 1106.1L190.2 1104.8L191 1103.6L191.7 1102.3L192.5 1101.1L193.3 1099.8L194.1 1098.6L195 1097.3L195.8 1096L196.6 1094.8L197.5 1093.5L198.3 1092.2L199.2 1091L200.1 1089.7L201 1088.4L201.9 1087.1L202.8 1085.8L203.7 1084.5L204.6 1083.3L205.6 1082L206.3 1081L207 1080L207.7 1079.1L208.5 1078.1L209.2 1077.1L209.9 1076.1L210.7 1075.2L211.5 1074.2L212.2 1073.2L213 1072.2L213.8 1071.3L214.6 1070.3L215.3 1069.3L216.1 1068.3L217 1067.4L217.8 1066.4L218.6 1065.4L219.4 1064.4L220.3 1063.4L221.1 1062.5L221.9 1061.5L222.8 1060.5L223.7 1059.5L224.5 1058.5L225.4 1057.6L226.3 1056.6L227.2 1055.6L228.1 1054.6L229 1053.6L229.9 1052.7L230.9 1051.7L231.8 1050.7L232.8 1049.7L233.7 1048.7L234.7 1047.8L235.6 1046.8L236.6 1045.8L237.6 1044.8L238.6 1043.9L239.6 1042.9L240.6 1041.9L241.6 1041L242.7 1040L243.7 1039L244.8 1038.1L245.8 1037.1L246.9 1036.1L248 1035.2L249.1 1034.2L250.2 1033.3L251.3 1032.3L252.4 1031.3L253.5 1030.4L254.6 1029.4L255.8 1028.5L256.9 1027.5L258.1 1026.6L259.3 1025.7L260.5 1024.7L261.7 1023.8L262.9 1022.8L264.1 1021.9L265.3 1021L266.6 1020.1L267.8 1019.1L269.1 1018.2L270.3 1017.3L271.6 1016.4L272.9 1015.5L274.2 1014.6L275.6 1013.6L276.9 1012.7L278.2 1011.8L279.6 1010.9L280.9 1010.1L282.3 1009.2L283.7 1008.3L285.1 1007.4L286.5 1006.5L288 1005.7L289.4 1004.8L290.8 1003.9L292.3 1003.1L293.8 1002.2L295.3 1001.4L296.8 1000.5L298.3 999.7L299.8 998.8L301.4 998L302.9 997.2L304.5 996.3L306.1 995.5L307.7 994.7L308.8 994.2L309.8 993.6L310.9 993.1L312 992.6L313.1 992L314.2 991.5L315.3 991L316.5 990.5L317.6 989.9L318.7 989.4L319.9 988.9L321 988.4L322.2 987.9L323.3 987.4L324.5 986.9L325.7 986.4L326.8 985.9L328 985.4L329.2 984.9L330.4 984.4L331.6 983.9L332.8 983.4L334.1 982.9L335.3 982.4L336.5 981.9L337.8 981.5L339 981L340.3 980.5L341.5 980.1L342.8 979.6L344.1 979.1L345.4 978.7L346.7 978.2L348 977.8L349.3 977.3L350.6 976.9L351.9 976.4L353.3 976L354.6 975.5L356 975.1L357.3 974.7L358.7 974.2L360.1 973.8L361.4 973.4L362.8 972.9L364.2 972.5L365.6 972.1L367 971.7L368.5 971.3L369.9 970.9L371.3 970.5L372.8 970.1L374.2 969.7L375.7 969.3L377.2 968.9L378.7 968.5L380.1 968.1L381.6 967.7L383.2 967.4L384.7 967L386.2 966.6L387.7 966.2L389.3 965.9L390.8 965.5L392.4 965.1L394 964.8L395.5 964.4L397.1 964.1L398.7 963.7L400.3 963.4L401.9 963L403.6 962.7L405.2 962.4L406.9 962L408.5 961.7L410.2 961.4L411.9 961.1L413.5 960.7L415.2 960.4L416.9 960.1L418.7 959.8L420.4 959.5L422.1 959.2L423.9 958.9L425.6 958.6L427.4 958.3L429.2 958L430.9 957.7L432.7 957.4L434.6 957.1L436.4 956.9L438.2 956.6L440 956.3L441.9 956.1L443.7 955.8L445.6 955.5L447.5 955.3L449.4 955L451.3 954.7L453.2 954.5L455.1 954.2L457.1 954L459 953.8L461 953.5L463 953.3L465 953L467 952.8L469 952.6L471 952.4L473 952.1L475.1 951.9L477.1 951.7L479.2 951.5L481.3 951.3L483.4 951.1L485.5 950.9L487.6 950.7L489.7 950.5L491.8 950.3L494 950.1L496.2 949.9L498.3 949.7L500.5 949.5L502.7 949.3L505 949.2L507.2 949L509.4 948.8L510.7 950.3L511 951.5L511.2 952.6L511.4 953.8L511.7 955L511.9 956.2L512.1 957.4L512.4 958.6L512.6 959.8L512.9 961L513.1 962.2L513.3 963.4L513.6 964.6L513.8 965.8L514.1 967L514.4 968.2L514.6 969.4L514.9 970.6L515.2 971.9L515.4 973.1L515.7 974.3L516 975.5L516.2 976.7L516.5 977.9L516.8 979.1L517.1 980.3L517.3 981.5L517.6 982.7L517.9 983.9L518.2 985.1L518.5 986.4L518.8 987.6L519.1 988.8L519.4 990.1L519.7 991.4L520 992.5L520.3 993.8L520.6 995L521 996.3L521.3 997.6L521.6 998.8L521.9 1000L522.3 1001.2L522.6 1002.4L522.9 1003.7L523.3 1005L523.6 1006.2L523.9 1007.4L524.3 1008.6L524.6 1009.8L525 1011L525.3 1012.3L525.7 1013.6L526.1 1014.9L526.5 1016.2L526.8 1017.4L527.2 1018.5L527.5 1019.7L527.9 1020.9L528.3 1022.1L528.6 1023.4L529 1024.6L529.4 1025.9L529.8 1027.1L530.2 1028.4L530.7 1029.7L531.1 1031L531.5 1032.4L532 1033.7L532.4 1034.9L532.7 1036L533.1 1037.2L533.5 1038.3L533.9 1039.5L534.4 1040.7L534.8 1041.9L535.2 1043.1L535.7 1044.4L536.1 1045.6L536.6 1046.9L537 1048.1L537.5 1049.4L538 1050.7L538.5 1052L539 1053.3L539.5 1054.6L540 1055.9L540.5 1057.2L541 1058.6L541.6 1059.9L542.1 1061.3L542.7 1062.7L543.1 1063.8L543.6 1064.9L544.1 1066L544.6 1067.2L545 1068.3L545.5 1069.5L546 1070.6L546.5 1071.8L547 1072.9L547.6 1074.1L548.1 1075.3L548.6 1076.5L549.2 1077.7L549.7 1078.9L550.3 1080.1L550.8 1081.3L551.4 1082.5L552 1083.7L552.6 1085L553.2 1086.2L553.8 1087.5L554.4 1088.7L555 1090L555.6 1091.2L556.3 1092.5L556.9 1093.8L557.6 1095.1L558.2 1096.4L558.9 1097.7L559.6 1099L560.3 1100.3L561 1101.6L561.7 1103L562.4 1104.3L563.2 1105.6L563.9 1107L564.7 1108.3L565.5 1109.7L566.2 1111L567 1112.4L567.8 1113.8L568.4 1114.8L569.1 1115.9L569.7 1116.9L570.3 1118L570.9 1119L571.6 1120.1L572.2 1121.1L572.9 1122.2L573.5 1123.2L574.2 1124.3L574.9 1125.4L575.6 1126.4L576.3 1127.5L577 1128.6L577.7 1129.7L578.4 1130.8L579.1 1131.8L579.8 1132.9L580.6 1134L581.3 1135.1L582.1 1136.2L582.8 1137.3L583.6 1138.4L584.4 1139.5L585.1 1140.6L585.9 1141.8L586.7 1142.9L587.6 1144L588.4 1145.1L589.2 1146.2L590 1147.3L590.9 1148.5L591.7 1149.6L592.6 1150.7L593.5 1151.9L594.3 1153L595.2 1154.1L596.1 1155.3L597 1156.4L598 1157.6L598.9 1158.7L599.8 1159.8L600.8 1161L601.7 1162.1L602.7 1163.3L603.7 1164.4L604.7 1165.6L605.7 1166.7L606.7 1167.9L607.7 1169.1L608.7 1170.2L609.8 1171.4L610.8 1172.5L611.9 1173.7L613 1174.8L614.1 1176L615.2 1177.2L616.3 1178.3L617.4 1179.5L618.5 1180.6L619.7 1181.8L620.8 1183L622 1184.1L623.2 1185.3L624.4 1186.4L625.6 1187.6L626.8 1188.7L628 1189.9L629.3 1191L630.6 1192.2L631.8 1193.3L633.1 1194.5L634.4 1195.6L635.7 1196.8L637.1 1197.9L638.4 1199.1L639.8 1200.2L641.1 1201.4L642.5 1202.5L643.5 1203.2L644.4 1204L645.3 1204.8L646.3 1205.5L647.3 1206.3L648.2 1207L649.2 1207.8L650.2 1208.5L651.2 1209.2L652.2 1210L653.2 1210.7L654.2 1211.5L655.2 1212.2L656.2 1212.9L657.2 1213.7L658.3 1214.4L659.3 1215.1L660.4 1215.9L661.4 1216.6L662.5 1217.3L663.6 1218.1L664.6 1218.8L665.7 1219.5L666.8 1220.2L667.9 1220.9L669 1221.6L670.2 1222.4L671.3 1223.1L672.4 1223.8L673.6 1224.5L674.7 1225.2L675.9 1225.9L677.1 1226.6L678.2 1227.3L679.4 1228L680.6 1228.7L681.8 1229.3L683 1230L684.2 1230.7L685.5 1231.4L686.7 1232.1L687.9 1232.7L689.2 1233.4L690.5 1234.1L691.7 1234.7L693 1235.4L694.3 1236.1L695.6 1236.7L696.9 1237.4L698.2 1238L699.6 1238.7L700.9 1239.3L702.2 1239.9L703.6 1240.6L705 1241.2L706.3 1241.8L707.7 1242.5L709.1 1243.1L710.5 1243.7L711.9 1244.3L713.3 1244.9L714.8 1245.5L716.2 1246.1L717.7 1246.7L719.1 1247.3L720.6 1247.9L722.1 1248.5L723.6 1249.1L725.1 1249.7L726.6 1250.3L728.1 1250.8L729.7 1251.4L731.2 1252L732.8 1252.5L734.3 1253.1L735.9 1253.6L737.5 1254.2L739.1 1254.7L740.7 1255.3L742.4 1255.8L744 1256.4L745.7 1256.9L747.3 1257.4L749 1257.9L750.7 1258.4L752.4 1259L754.1 1259.5L755.8 1260L757.5 1260.5L759.3 1261L761 1261.5L762.8 1261.9L764.6 1262.4L766.4 1262.9L768.2 1263.4L770 1263.8L771.8 1264.3L773.7 1264.8L775.5 1265.2L777.4 1265.7L779.3 1266.1L781.2 1266.6L783.1 1267L785 1267.4L787 1267.9L788.9 1268.3L790.9 1268.7L792.9 1269.1L794.9 1269.5L796.9 1269.9L798.9 1270.3L800.9 1270.7L803 1271.1L805.1 1271.5L807.1 1271.9L809.2 1272.3L811.4 1272.6L813.5 1273L815.6 1273.4L817.8 1273.7L819.9 1274.1L822.1 1274.4L824.3 1274.8L826.6 1275.1L828.8 1275.5L831 1275.8L833.3 1276.1L835.6 1276.5L837.9 1276.8L840.2 1277.1L842.5 1277.4L844.9 1277.7L847.2 1278L849.6 1278.3L850.8 1278.5L852 1278.6L853.2 1278.7L854.4 1278.9L855.6 1279L856.8 1279.2L858.1 1279.3L859.3 1279.5L860.5 1279.6L861.7 1279.7L863 1279.9L864.2 1280L865.5 1280.1L866.7 1280.3L868 1280.4L869.2 1280.5L870.5 1280.7L871.8 1280.8L873.1 1280.9L874.3 1281.1L875.6 1281.2L876.9 1281.3L878.2 1281.4L879.5 1281.6L880.8 1281.7L882.1 1281.8L883.4 1281.9L884.7 1282L886 1282.2L887.4 1282.3L888.7 1282.4L890 1282.5L891.4 1282.6L892.7 1282.7L894.1 1282.8L895.4 1283L896.8 1283.1L898.1 1283.2L899.5 1283.3L900.9 1283.4L902.2 1283.5L903.6 1283.6L905 1283.7L906.4 1283.8L907.8 1283.9L909.2 1284L910.6 1284.1L912 1284.2L913.4 1284.3L914.9 1284.4L916.3 1284.5L917.7 1284.6L919.1 1284.7L920.6 1284.8L922 1284.9L923.5 1285L924.9 1285.1L926.4 1285.2" fill="none" stroke="#dc0c12" stroke-width="4.5" stroke-linejoin="round" stroke-linecap="round"/>
<path d="M124.6 1292.8L124.6 1292.8L124.9 1291.6L125.1 1290.4L125.4 1289.3L125.7 1288.1L126 1286.9L126.2 1285.8L126.5 1284.6L126.8 1283.4L127.1 1282.2L127.4 1281L127.7 1279.8L127.9 1278.6L128.2 1277.5L128.5 1276.3L128.8 1275.1L129.1 1273.9L129.4 1272.7L129.7 1271.5L130 1270.3L130.3 1269.1L130.6 1267.9L130.9 1266.7L131.2 1265.5L131.6 1264.2L131.9 1263L132.2 1261.8L132.5 1260.6L132.8 1259.3L133.2 1258.2L133.5 1256.9L133.8 1255.7L134.1 1254.5L134.5 1253.3L134.8 1252.1L135.1 1250.9L135.5 1249.6L135.8 1248.4L136.2 1247.2L136.5 1246L136.9 1244.7L137.2 1243.5L137.6 1242.3L137.9 1241.1L138.3 1239.9L138.6 1238.6L139 1237.4L139.4 1236.1L139.8 1234.9L140.1 1233.7L140.5 1232.5L140.9 1231.3L141.2 1230L141.6 1228.8L142 1227.5L142.4 1226.3L142.8 1225.2L143.1 1224L143.5 1222.8L143.9 1221.6L144.3 1220.4L144.7 1219.1L145.1 1217.8L145.6 1216.6L146 1215.3L146.4 1214L146.8 1212.8L147.2 1211.7L147.6 1210.5L148 1209.3L148.4 1208.1L148.9 1206.9L149.3 1205.7L149.7 1204.5L150.2 1203.3L150.6 1202L151.1 1200.8L151.6 1199.5L152 1198.2L152.5 1196.9L153 1195.6L153.5 1194.3L154 1192.9L154.5 1191.8L154.9 1190.7L155.4 1189.6L155.8 1188.4L156.3 1187.3L156.7 1186.1L157.2 1184.9L157.7 1183.8L158.2 1182.6L158.7 1181.4L159.2 1180.2L159.7 1179L160.2 1177.8L160.7 1176.5L161.3 1175.3L161.8 1174.1L162.3 1172.8L162.9 1171.6L163.5 1170.3L164 1169.1L164.6 1167.8L165.2 1166.5L165.8 1165.3L166.4 1164L167 1162.7L167.6 1161.4L168.3 1160.1L168.9 1158.8L169.6 1157.5L170.2 1156.1L170.9 1154.8L171.6 1153.5L172.1 1152.4L172.7 1151.4L173.3 1150.3L173.8 1149.2L174.4 1148.1L175 1147L175.6 1146L176.2 1144.9L176.8 1143.8L177.4 1142.7L178.1 1141.6L178.7 1140.5L179.3 1139.4L180 1138.3L180.6 1137.2L181.3 1136.1L181.9 1135L182.6 1133.9L183.3 1132.8L184 1131.7L184.7 1130.6L185.4 1129.5L186.1 1128.4L186.8 1127.3L187.6 1126.1L188.3 1125L189.1 1123.9L189.8 1122.8L190.6 1121.7L191.4 1120.6L192.1 1119.5L192.9 1118.4L193.7 1117.2L194.6 1116.1L195.4 1115L196.2 1113.9L197.1 1112.8L197.9 1111.7L198.8 1110.6L199.6 1109.5L200.5 1108.4L201.4 1107.3L202.3 1106.1L203.2 1105L204.2 1103.9L205.1 1102.8L206 1101.7L207 1100.6L208 1099.5L209 1098.5L209.9 1097.4L210.9 1096.3L212 1095.2L213 1094.1L214 1093L215.1 1091.9L216.1 1090.9L217.2 1089.8L218.3 1088.7L219.4 1087.7L220.5 1086.6L221.7 1085.5L222.8 1084.5L224 1083.4L225.1 1082.4L226.3 1081.3L227.5 1080.3L228.7 1079.2L229.6 1078.5L230.6 1077.7L231.5 1076.9L232.4 1076.1L233.4 1075.4L234.3 1074.6L235.3 1073.8L236.3 1073.1L237.3 1072.3L238.3 1071.6L239.3 1070.8L240.3 1070L241.3 1069.3L242.3 1068.5L243.4 1067.8L244.4 1067.1L245.5 1066.3L246.5 1065.6L247.6 1064.8L248.7 1064.1L249.8 1063.4L250.9 1062.7L252 1061.9L253.1 1061.2L254.3 1060.5L255.4 1059.8L256.6 1059.1L257.7 1058.3L258.9 1057.6L260.1 1056.9L261.3 1056.2L262.5 1055.5L263.7 1054.8L264.9 1054.1L266.1 1053.4L267.4 1052.7L268.7 1052.1L269.9 1051.4L271.2 1050.7L272.5 1050L273.8 1049.3L275.1 1048.7L276.4 1048L277.8 1047.3L279.1 1046.7L280.5 1046L281.9 1045.4L283.2 1044.7L284.6 1044L286.1 1043.4L287.5 1042.7L288.9 1042.1L290.4 1041.5L291.8 1040.8L293.3 1040.2L294.8 1039.6L296.3 1038.9L297.8 1038.3L299.3 1037.7L300.9 1037.1L302.4 1036.4L304 1035.8L305.6 1035.2L307.2 1034.6L308.8 1034L310.4 1033.4L312 1032.8L313.7 1032.2L315.3 1031.6L317 1031L318.7 1030.4L319.9 1030L321 1029.6L322.2 1029.2L323.3 1028.8L324.5 1028.5L325.7 1028.1L326.8 1027.7L328 1027.3L329.2 1026.9L330.4 1026.5L331.6 1026.2L332.8 1025.8L334.1 1025.4L335.3 1025L336.5 1024.7L337.8 1024.3L339 1023.9L340.3 1023.5L341.5 1023.2L342.8 1022.8L344.1 1022.4L345.4 1022.1L346.7 1021.7L348 1021.3L349.3 1021L350.6 1020.6L351.9 1020.3L353.3 1019.9L354.6 1019.5L356 1019.2L357.3 1018.8L358.7 1018.5L360.1 1018.1L361.4 1017.8L362.8 1017.4L364.2 1017.1L365.6 1016.7L367 1016.4L368.5 1016L369.9 1015.7L371.3 1015.4L372.8 1015L374.2 1014.7L375.7 1014.3L377.2 1014L378.7 1013.7L380.1 1013.3L381.6 1013L383.2 1012.7L384.7 1012.3L386.2 1012L387.7 1011.7L389.3 1011.3L390.8 1011L392.4 1010.7L394 1010.4L395.5 1010L397.1 1009.7L398.7 1009.4L400.3 1009.1L401.9 1008.8L403.6 1008.5L405.2 1008.1L406.9 1007.8L408.5 1007.5L410.2 1007.2L411.9 1006.9L413.5 1006.6L415.2 1006.3L416.9 1006L418.7 1005.7L420.4 1005.4L422.1 1005.1L423.9 1004.8L425.6 1004.5L427.4 1004.2L429.2 1003.9L430.9 1003.6L432.7 1003.3L434.6 1003L436.4 1002.7L438.2 1002.4L440 1002.1L441.9 1001.8L443.7 1001.6L445.6 1001.3L447.5 1001L449.4 1000.7L451.3 1000.4L453.2 1000.2L455.1 999.9L457.1 999.6L459 999.3L461 999.1L463 998.8L465 998.5L467 998.2L469 998L471 997.7L473 997.5L475.1 997.2L477.1 996.9L479.2 996.7L481.3 996.4L483.4 996.2L485.5 995.9L487.6 995.6L489.7 995.4L491.8 995.1L494 994.9L496.2 994.7L498.3 994.4L500.5 994.2L502.7 993.9L505 993.7L507.2 993.4L509.4 993.2L510.7 995.4L510.9 996.6L511.1 997.8L511.3 998.9L511.5 1000.1L511.7 1001.3L511.9 1002.5L512.1 1003.7L512.4 1004.9L512.6 1006.1L512.8 1007.3L513 1008.6L513.3 1009.8L513.5 1011L513.7 1012.2L514 1013.4L514.2 1014.6L514.4 1015.8L514.7 1017L514.9 1018.2L515.2 1019.4L515.4 1020.6L515.7 1021.8L515.9 1023L516.2 1024.2L516.4 1025.4L516.7 1026.7L517 1027.9L517.3 1029.1L517.6 1030.4L517.8 1031.6L518.1 1032.8L518.4 1034.1L518.7 1035.3L519 1036.5L519.3 1037.7L519.6 1039L519.9 1040.3L520.2 1041.5L520.5 1042.7L520.9 1043.9L521.2 1045.2L521.5 1046.5L521.9 1047.8L522.2 1048.9L522.5 1050.1L522.9 1051.4L523.2 1052.6L523.6 1053.8L524 1055.1L524.4 1056.4L524.8 1057.7L525.1 1058.9L525.5 1060.1L525.8 1061.2L526.2 1062.4L526.6 1063.7L527 1064.9L527.4 1066.1L527.8 1067.4L528.3 1068.7L528.7 1070L529.2 1071.3L529.6 1072.6L530 1073.7L530.4 1074.8L530.9 1076L531.3 1077.2L531.7 1078.3L532.2 1079.5L532.7 1080.7L533.1 1081.9L533.6 1083.1L534.1 1084.4L534.6 1085.6L535.1 1086.8L535.6 1088.1L536.2 1089.3L536.7 1090.6L537.3 1091.9L537.8 1093.2L538.4 1094.5L539 1095.8L539.5 1096.9L540 1098L540.5 1099.1L541.1 1100.2L541.6 1101.3L542.2 1102.5L542.7 1103.6L543.3 1104.7L543.9 1105.9L544.4 1107L545 1108.2L545.7 1109.4L546.3 1110.6L546.9 1111.7L547.6 1112.9L548.2 1114.1L548.9 1115.3L549.5 1116.5L550.2 1117.8L550.9 1119L551.7 1120.2L552.4 1121.5L553.1 1122.7L553.9 1124L554.6 1125.2L555.4 1126.5L556.1 1127.5L556.7 1128.5L557.3 1129.6L558 1130.6L558.7 1131.6L559.4 1132.7L560 1133.7L560.7 1134.8L561.4 1135.9L562.2 1136.9L562.9 1138L563.6 1139.1L564.4 1140.2L565.1 1141.2L565.9 1142.3L566.7 1143.4L567.5 1144.5L568.3 1145.6L569.1 1146.7L569.9 1147.9L570.8 1149L571.6 1150.1L572.5 1151.2L573.4 1152.4L574.2 1153.5L575.1 1154.7L576 1155.8L577 1157L577.9 1158.1L578.9 1159.3L579.8 1160.5L580.8 1161.6L581.8 1162.8L582.8 1164L583.8 1165.2L584.8 1166.4L585.9 1167.6L586.7 1168.5L587.5 1169.4L588.3 1170.3L589.1 1171.2L590 1172.1L590.8 1173L591.6 1173.9L592.5 1174.8L593.4 1175.8L594.2 1176.7L595.1 1177.6L596 1178.5L596.9 1179.5L597.8 1180.4L598.8 1181.3L599.7 1182.2L600.6 1183.2L601.6 1184.1L602.5 1185.1L603.5 1186L604.5 1186.9L605.5 1187.9L606.5 1188.8L607.5 1189.8L608.5 1190.7L609.6 1191.6L610.6 1192.6L611.7 1193.5L612.7 1194.5L613.8 1195.4L614.9 1196.4L616 1197.3L617.1 1198.3L618.2 1199.2L619.4 1200.2L620.5 1201.1L621.7 1202.1L622.9 1203L624 1204L625.2 1204.9L626.5 1205.9L627.7 1206.8L628.9 1207.8L630.2 1208.7L631.4 1209.7L632.7 1210.6L634 1211.6L635.3 1212.5L636.6 1213.4L638 1214.4L639.3 1215.3L640.7 1216.3L642 1217.2L643.4 1218.1L644.8 1219.1L646.2 1220L647.7 1220.9L649.1 1221.9L650.6 1222.8L652.1 1223.7L653.6 1224.6L655.1 1225.5L656.6 1226.4L658.1 1227.4L659.2 1228L660.2 1228.6L661.3 1229.2L662.3 1229.8L663.4 1230.4L664.5 1231L665.5 1231.6L666.6 1232.2L667.7 1232.8L668.8 1233.3L669.9 1233.9L671.1 1234.5L672.2 1235.1L673.3 1235.7L674.5 1236.3L675.6 1236.9L676.8 1237.4L678 1238L679.1 1238.6L680.3 1239.2L681.5 1239.7L682.7 1240.3L683.9 1240.9L685.1 1241.4L686.4 1242L687.6 1242.5L688.8 1243.1L690.1 1243.7L691.4 1244.2L692.6 1244.8L693.9 1245.3L695.2 1245.9L696.5 1246.4L697.8 1246.9L699.1 1247.5L700.4 1248L701.8 1248.5L703.1 1249.1L704.5 1249.6L705.8 1250.1L707.2 1250.6L708.6 1251.2L710 1251.7L711.4 1252.2L712.8 1252.7L714.2 1253.2L715.6 1253.7L717.1 1254.2L718.5 1254.7L720 1255.2L721.5 1255.7L722.9 1256.2L724.4 1256.7L725.9 1257.2L727.5 1257.6L729 1258.1L730.5 1258.6L732.1 1259.1L733.6 1259.5L735.2 1260L736.8 1260.4L738.3 1260.9L739.9 1261.4L741.6 1261.8L743.2 1262.3L744.8 1262.7L746.5 1263.1L748.1 1263.6L749.8 1264L751.5 1264.4L753.2 1264.9L754.9 1265.3L756.6 1265.7L758.3 1266.1L760.1 1266.5L761.8 1267L763.6 1267.4L765.3 1267.8L767.1 1268.2L768.9 1268.6L770.8 1268.9L772.6 1269.3L774.4 1269.7L776.3 1270.1L778.1 1270.5L780 1270.8L781.9 1271.2L783.8 1271.6L785.7 1271.9L787.7 1272.3L789.6 1272.7L791.6 1273L793.6 1273.4L795.5 1273.7L797.5 1274L799.6 1274.4L801.6 1274.7L803.6 1275L805.7 1275.4L807.8 1275.7L809.9 1276L812 1276.3L814.1 1276.6L816.2 1276.9L818.4 1277.2L820.5 1277.5L822.7 1277.8L824.9 1278.1L827.1 1278.4L829.3 1278.7L831.6 1279L833.8 1279.2L836.1 1279.5L838.4 1279.8L840.7 1280L843 1280.3L845.3 1280.6L847.7 1280.8L850.1 1281.1L852.4 1281.3L853.6 1281.4L854.8 1281.6L856 1281.7L857.3 1281.8L858.5 1281.9L859.7 1282L860.9 1282.2L862.1 1282.3L863.4 1282.4L864.6 1282.5L865.9 1282.6L867.1 1282.7L868.4 1282.8L869.6 1283L870.9 1283.1L872.1 1283.2L873.4 1283.3L874.7 1283.4L875.9 1283.5L877.2 1283.6L878.5 1283.7L879.8 1283.8L881.1 1283.9L882.4 1284L883.7 1284.1L885 1284.2L886.3 1284.3L887.6 1284.4L889 1284.5L890.3 1284.6L891.6 1284.7L893 1284.8L894.3 1284.9" fill="none" stroke="#18e018" stroke-width="4.5" stroke-linejoin="round" stroke-linecap="round"/>
<path d="M124.6 1292.8L124.6 1292.8L124.8 1291.6L125 1290.4L125.2 1289.2L125.4 1288L125.6 1286.8L125.8 1285.6L126 1284.4L126.2 1283.3L126.4 1282.1L126.7 1280.9L126.9 1279.7L127.1 1278.5L127.3 1277.3L127.6 1276.1L127.8 1274.9L128 1273.7L128.3 1272.5L128.5 1271.3L128.8 1270.1L129 1268.9L129.3 1267.7L129.5 1266.5L129.8 1265.3L130.1 1264.1L130.3 1262.9L130.6 1261.7L130.9 1260.5L131.2 1259.3L131.5 1258.1L131.8 1256.9L132.1 1255.7L132.4 1254.4L132.7 1253.2L133 1252L133.4 1250.8L133.7 1249.6L134 1248.4L134.4 1247.2L134.7 1246L135.1 1244.8L135.5 1243.5L135.8 1242.4L136.2 1241.2L136.6 1240L136.9 1238.8L137.4 1237.6L137.8 1236.3L138.2 1235.2L138.6 1234L139 1232.8L139.4 1231.7L139.8 1230.5L140.3 1229.3L140.8 1228L141.2 1226.8L141.7 1225.7L142.1 1224.6L142.6 1223.4L143.1 1222.3L143.6 1221.1L144.1 1220L144.6 1218.8L145.1 1217.6L145.7 1216.4L146.3 1215.2L146.8 1214L147.4 1212.9L147.9 1211.8L148.4 1210.7L149 1209.6L149.6 1208.5L150.2 1207.4L150.8 1206.3L151.4 1205.1L152 1204L152.7 1202.9L153.4 1201.7L154 1200.5L154.7 1199.4L155.4 1198.3L156 1197.3L156.6 1196.2L157.3 1195.2L158 1194.1L158.7 1193.1L159.4 1192L160.1 1190.9L160.8 1189.8L161.6 1188.7L162.3 1187.6L163.1 1186.5L163.9 1185.4L164.7 1184.3L165.4 1183.3L166.2 1182.3L166.9 1181.4L167.6 1180.4L168.4 1179.4L169.2 1178.4L170 1177.4L170.8 1176.3L171.6 1175.3L172.4 1174.3L173.3 1173.3L174.1 1172.2L175 1171.2L175.9 1170.1L176.8 1169L177.7 1168L178.7 1166.9L179.5 1166L180.3 1165.1L181.1 1164.1L181.9 1163.2L182.8 1162.3L183.6 1161.4L184.5 1160.4L185.4 1159.5L186.3 1158.5L187.2 1157.6L188.1 1156.6L189.1 1155.7L190 1154.7L191 1153.7L191.9 1152.8L192.9 1151.8L193.9 1150.8L195 1149.8L196 1148.8L197.1 1147.8L198.1 1146.8L199.2 1145.8L200.3 1144.8L201.2 1143.9L202.1 1143.1L203 1142.3L203.9 1141.5L204.9 1140.7L205.8 1139.8L206.8 1139L207.7 1138.2L208.7 1137.3L209.7 1136.5L210.7 1135.6L211.7 1134.8L212.7 1134L213.8 1133.1L214.8 1132.3L215.9 1131.4L217 1130.6L218 1129.7L219.1 1128.8L220.3 1128L221.4 1127.1L222.5 1126.3L223.7 1125.4L224.8 1124.5L226 1123.7L227.2 1122.8L228.4 1121.9L229.6 1121.1L230.9 1120.2L232.1 1119.3L233.4 1118.5L234.7 1117.6L236 1116.7L237.3 1115.9L238.6 1115L239.9 1114.1L241 1113.5L242 1112.8L243 1112.2L244.1 1111.5L245.1 1110.9L246.2 1110.2L247.2 1109.6L248.3 1108.9L249.4 1108.3L250.5 1107.6L251.6 1107L252.7 1106.3L253.9 1105.7L255 1105L256.2 1104.4L257.3 1103.7L258.5 1103.1L259.7 1102.5L260.9 1101.8L262.1 1101.2L263.3 1100.5L264.5 1099.9L265.7 1099.3L267 1098.6L268.2 1098L269.5 1097.4L270.8 1096.7L272.1 1096.1L273.4 1095.5L274.7 1094.9L276 1094.2L277.3 1093.6L278.7 1093L280 1092.4L281.4 1091.8L282.8 1091.2L284.2 1090.5L285.6 1089.9L287 1089.3L288.4 1088.7L289.9 1088.1L291.3 1087.5L292.8 1086.9L294.3 1086.3L295.8 1085.7L297.3 1085.1L298.8 1084.6L300.3 1084L301.9 1083.4L303.5 1082.8L305 1082.2L306.6 1081.7L308.2 1081.1L309.8 1080.5L311.5 1080L313.1 1079.4L314.8 1078.9L316.5 1078.3L318.2 1077.8L319.9 1077.2L321 1076.9L322.2 1076.5L323.3 1076.1L324.5 1075.8L325.7 1075.4L326.8 1075.1L328 1074.7L329.2 1074.4L330.4 1074L331.6 1073.7L332.8 1073.3L334.1 1073L335.3 1072.6L336.5 1072.3L337.8 1072L339 1071.6L340.3 1071.3L341.5 1070.9L342.8 1070.6L344.1 1070.3L345.4 1070L346.7 1069.6L348 1069.3L349.3 1069L350.6 1068.7L351.9 1068.3L353.3 1068L354.6 1067.7L356 1067.4L357.3 1067.1L358.7 1066.8L360.1 1066.5L361.4 1066.2L362.8 1065.9L364.2 1065.6L365.6 1065.3L367 1065L368.5 1064.7L369.9 1064.4L371.3 1064.1L372.8 1063.8L374.2 1063.5L375.7 1063.2L377.2 1062.9L378.7 1062.6L380.1 1062.4L381.6 1062.1L383.2 1061.8L384.7 1061.5L386.2 1061.3L387.7 1061L389.3 1060.7L390.8 1060.5L392.4 1060.2L394 1059.9L395.5 1059.7L397.1 1059.4L398.7 1059.2L400.3 1058.9L401.9 1058.7L403.6 1058.4L405.2 1058.2L406.9 1057.9L408.5 1057.7L410.2 1057.4L411.9 1057.2L413.5 1057L415.2 1056.7L416.9 1056.5L418.7 1056.3L420.4 1056.1L422.1 1055.8L423.9 1055.6L425.6 1055.4L427.4 1055.2L429.2 1054.9L430.9 1054.7L432.7 1054.5L434.6 1054.3L436.4 1054.1L438.2 1053.9L440 1053.7L441.9 1053.5L443.7 1053.3L445.6 1053.1L447.5 1052.9L449.4 1052.7L451.3 1052.5L453.2 1052.3L455.1 1052.1L457.1 1052L459 1051.8L461 1051.6L463 1051.4L465 1051.2L467 1051.1L469 1050.9L471 1050.7L473 1050.6L475.1 1050.4L477.1 1050.2L479.2 1050.1L481.3 1049.9L483.4 1049.7L485.5 1049.6L487.6 1049.4L489.7 1049.3L491.8 1049.1L494 1049L496.2 1048.8L498.3 1048.7L500.5 1048.6L502.7 1048.4L505 1048.3L507.2 1048.1L509.4 1048L510.7 1050.8L510.9 1052L511.1 1053.2L511.2 1054.4L511.4 1055.6L511.6 1056.8L511.8 1058L512 1059.2L512.3 1060.3L512.5 1061.5L512.7 1062.7L512.9 1064L513.1 1065.2L513.4 1066.4L513.6 1067.6L513.9 1068.8L514.1 1070L514.3 1071.2L514.6 1072.4L514.9 1073.6L515.2 1074.8L515.4 1076L515.7 1077.2L516 1078.4L516.3 1079.6L516.6 1080.8L516.9 1082L517.2 1083.2L517.5 1084.4L517.8 1085.6L518.2 1086.9L518.5 1088L518.8 1089.2L519.2 1090.4L519.6 1091.6L519.9 1092.8L520.3 1094L520.7 1095.2L521.1 1096.4L521.5 1097.6L521.9 1098.8L522.3 1100L522.8 1101.1L523.2 1102.3L523.7 1103.5L524.1 1104.7L524.6 1105.9L525.1 1107L525.5 1108.2L526 1109.3L526.5 1110.5L527 1111.6L527.5 1112.8L528.1 1114L528.6 1115.2L529.2 1116.4L529.8 1117.5L530.3 1118.6L530.9 1119.8L531.4 1120.9L532 1122L532.7 1123.2L533.3 1124.4L533.9 1125.5L534.6 1126.7L535.2 1127.8L535.8 1128.9L536.4 1130L537.1 1131.1L537.7 1132.2L538.4 1133.3L539.1 1134.4L539.8 1135.6L540.5 1136.8L541.3 1137.9L541.9 1139L542.6 1140L543.3 1141L544 1142.1L544.7 1143.2L545.4 1144.2L546.2 1145.3L546.9 1146.4L547.7 1147.5L548.5 1148.7L549.3 1149.8L550.1 1151L550.9 1152.1L551.7 1153.1L552.4 1154.1L553.1 1155.1L553.9 1156.1L554.6 1157.1L555.4 1158.1L556.2 1159.2L557 1160.2L557.8 1161.3L558.7 1162.3L559.5 1163.4L560.4 1164.5L561.3 1165.6L562.2 1166.7L563.1 1167.8L564 1168.9L565 1170L565.9 1171.2L566.7 1172.1L567.5 1173L568.3 1173.9L569.1 1174.9L569.9 1175.8L570.8 1176.7L571.6 1177.7L572.5 1178.6L573.4 1179.6L574.2 1180.6L575.1 1181.5L576 1182.5L577 1183.5L577.9 1184.5L578.9 1185.5L579.8 1186.5L580.8 1187.5L581.8 1188.5L582.8 1189.5L583.8 1190.5L584.8 1191.5L585.9 1192.5L587 1193.5L588 1194.6L589.1 1195.6L590.2 1196.6L591.4 1197.7L592.5 1198.7L593.7 1199.7L594.8 1200.8L596 1201.8L597.2 1202.9L598.1 1203.7L599.1 1204.5L600 1205.3L600.9 1206.1L601.9 1206.9L602.9 1207.6L603.8 1208.4L604.8 1209.2L605.8 1210L606.8 1210.8L607.8 1211.6L608.9 1212.4L609.9 1213.2L611 1214L612 1214.8L613.1 1215.6L614.2 1216.4L615.3 1217.2L616.4 1218L617.5 1218.8L618.6 1219.6L619.8 1220.4L620.9 1221.2L622.1 1222L623.3 1222.8L624.4 1223.6L625.7 1224.4L626.9 1225.2L628.1 1226L629.3 1226.8L630.6 1227.6L631.9 1228.4L633.1 1229.2L634.4 1230L635.7 1230.8L637.1 1231.6L638.4 1232.3L639.7 1233.1L641.1 1233.9L642.5 1234.7L643.9 1235.5L645.3 1236.2L646.7 1237L648.2 1237.8L649.6 1238.5L651.1 1239.3L652.6 1240.1L654.1 1240.8L655.6 1241.6L657.1 1242.3L658.6 1243.1L660.2 1243.8L661.8 1244.6L663.4 1245.3L665 1246L666.6 1246.8L668.3 1247.5L669.4 1248L670.5 1248.4L671.6 1248.9L672.8 1249.4L673.9 1249.9L675 1250.3L676.2 1250.8L677.4 1251.3L678.5 1251.7L679.7 1252.2L680.9 1252.7L682.1 1253.1L683.3 1253.6L684.5 1254L685.7 1254.5L687 1255L688.2 1255.4L689.5 1255.9L690.7 1256.3L692 1256.7L693.3 1257.2L694.5 1257.6L695.8 1258.1L697.1 1258.5L698.5 1258.9L699.8 1259.3L701.1 1259.8L702.4 1260.2L703.8 1260.6L705.1 1261L706.5 1261.5L707.9 1261.9L709.3 1262.3L710.7 1262.7L712.1 1263.1L713.5 1263.5L714.9 1263.9L716.4 1264.3L717.8 1264.7L719.3 1265.1L720.7 1265.5L722.2 1265.9L723.7 1266.2L725.2 1266.6L726.7 1267L728.2 1267.4L729.7 1267.7L731.3 1268.1L732.8 1268.5L734.4 1268.8L736 1269.2L737.6 1269.6L739.1 1269.9L740.8 1270.3L742.4 1270.6L744 1271L745.6 1271.3L747.3 1271.6L749 1272L750.6 1272.3L752.3 1272.6L754 1273L755.7 1273.3L757.4 1273.6L759.2 1273.9L760.9 1274.2L762.7 1274.6L764.5 1274.9L766.2 1275.2L768 1275.5L769.8 1275.8L771.7 1276.1L773.5 1276.4L775.3 1276.7L777.2 1276.9L779.1 1277.2L781 1277.5L782.9 1277.8L784.8 1278.1L786.7 1278.3L788.6 1278.6L790.6 1278.9L792.6 1279.1L794.6 1279.4L796.5 1279.6L798.6 1279.9L800.6 1280.1L802.6 1280.4L804.7 1280.6L806.7 1280.9L808.8 1281.1L810.9 1281.3L813 1281.6L815.1 1281.8L817.3 1282L819.4 1282.2L821.6 1282.5L823.8 1282.7L826 1282.9L828.2 1283.1L830.4 1283.3L832.7 1283.5L835 1283.7L837.2 1283.9L839.5 1284.1L841.8 1284.3L844.2 1284.5L846.5 1284.7L848.9 1284.9L851.2 1285L853.6 1285.2L854.8 1285.3L856 1285.4L857.3 1285.5L858.5 1285.6L859.7 1285.6L860.9 1285.7L862.1 1285.8L863.4 1285.9L864.6 1286L865.9 1286.1L867.1 1286.1L868.4 1286.2L869.6 1286.3L870.9 1286.4L872.1 1286.4L873.4 1286.5L874.7 1286.6L875.9 1286.7L877.2 1286.8L878.5 1286.8L879.8 1286.9L881.1 1287L882.4 1287L883.7 1287.1L885 1287.2L886.3 1287.3L887.6 1287.3L889 1287.4L890.3 1287.5L891.6 1287.5L893 1287.6L894.3 1287.7" fill="none" stroke="#0800d8" stroke-width="4.5" stroke-linejoin="round" stroke-linecap="round"/>
<line x1="510.5" y1="668.2" x2="510.5" y2="1319.9" stroke="#000" stroke-width="3.0"/>
<rect x="118" y="668.2" width="808.4" height="651.7" fill="none" stroke="#000" stroke-width="2.4"/>
<text x="376.5" y="898.6" font-size="34" fill="#000" stroke="#000" stroke-width="0.35" text-anchor="middle">Pulsed Plasma</text>
<line x1="120.5" y1="913.4" x2="507.5" y2="913.4" stroke="#000" stroke-width="3.4" stroke-dasharray="16 15.2" stroke-dashoffset="0"/><path d="M118.5 913.4L137.5 908.4L137.5 918.4Z" fill="#000"/><path d="M509.5 913.4L490.5 908.4L490.5 918.4Z" fill="#000"/>
<text x="756.2" y="971.1" font-size="34" fill="#000" stroke="#000" stroke-width="0.35" text-anchor="middle">Maintenance</text>
<line x1="513.5" y1="987.2" x2="924" y2="987.2" stroke="#000" stroke-width="3.4" stroke-dasharray="16 15.2" stroke-dashoffset="0"/><path d="M511.5 987.2L530.5 982.2L530.5 992.2Z" fill="#000"/><path d="M926 987.2L907 982.2L907 992.2Z" fill="#000"/>
<text x="991.4" y="998" font-size="54" fill="#000" stroke="#000" stroke-width="0.35" text-anchor="middle">(b)</text>
<line x1="733.5" y1="688.5" x2="800.8" y2="688.5" stroke="#14e6e6" stroke-width="4.5" stroke-linecap="round"/>
<line x1="733.5" y1="727.1" x2="800.8" y2="727.1" stroke="#dc0c12" stroke-width="4.5" stroke-linecap="round"/>
<line x1="733.5" y1="765.7" x2="800.8" y2="765.7" stroke="#18e018" stroke-width="4.5" stroke-linecap="round"/>
<line x1="733.5" y1="804.3" x2="800.8" y2="804.3" stroke="#0800d8" stroke-width="4.5" stroke-linecap="round"/>
<text x="810.5" y="699.8" font-size="30" stroke="#000" stroke-width="0.35">40 m<tspan dy="-13.5" font-size="21">3</tspan><tspan dy="13.5">/h</tspan></text>
<text x="810.5" y="738.4" font-size="30" stroke="#000" stroke-width="0.35">60 m<tspan dy="-13.5" font-size="21">3</tspan><tspan dy="13.5">/h</tspan></text>
<text x="810.5" y="777" font-size="30" stroke="#000" stroke-width="0.35">80 m<tspan dy="-13.5" font-size="21">3</tspan><tspan dy="13.5">/h</tspan></text>
<text x="810.5" y="815.6" font-size="30" stroke="#000" stroke-width="0.35">100 m<tspan dy="-13.5" font-size="21">3</tspan><tspan dy="13.5">/h</tspan></text>
</svg>
</body></html>
